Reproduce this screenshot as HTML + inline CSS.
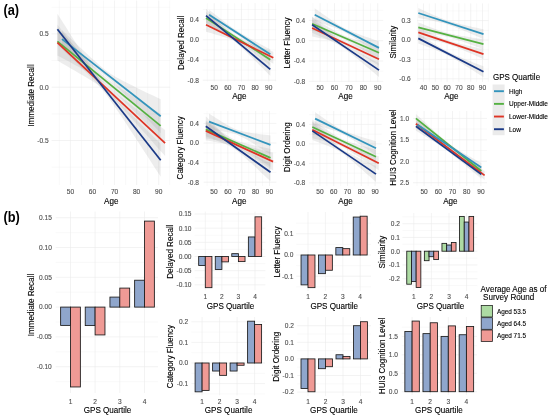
<!DOCTYPE html>
<html><head><meta charset="utf-8"><style>
html,body{margin:0;padding:0;background:#fff;}
svg{display:block;font-family:"Liberation Sans", sans-serif;filter:blur(0.35px);}
</style></head><body>
<svg width="550" height="417" viewBox="0 0 550 417">
<rect width="550" height="417" fill="#fff"/>
<line x1="59.36" y1="0.50" x2="59.36" y2="185.00" stroke="#EBEBEB" stroke-width="0.3"/>
<line x1="81.44" y1="0.50" x2="81.44" y2="185.00" stroke="#EBEBEB" stroke-width="0.3"/>
<line x1="103.51" y1="0.50" x2="103.51" y2="185.00" stroke="#EBEBEB" stroke-width="0.3"/>
<line x1="125.59" y1="0.50" x2="125.59" y2="185.00" stroke="#EBEBEB" stroke-width="0.3"/>
<line x1="147.66" y1="0.50" x2="147.66" y2="185.00" stroke="#EBEBEB" stroke-width="0.3"/>
<line x1="169.74" y1="0.50" x2="169.74" y2="185.00" stroke="#EBEBEB" stroke-width="0.3"/>
<line x1="70.40" y1="0.50" x2="70.40" y2="185.00" stroke="#EBEBEB" stroke-width="0.6"/>
<line x1="92.48" y1="0.50" x2="92.48" y2="185.00" stroke="#EBEBEB" stroke-width="0.6"/>
<line x1="114.55" y1="0.50" x2="114.55" y2="185.00" stroke="#EBEBEB" stroke-width="0.6"/>
<line x1="136.62" y1="0.50" x2="136.62" y2="185.00" stroke="#EBEBEB" stroke-width="0.6"/>
<line x1="158.70" y1="0.50" x2="158.70" y2="185.00" stroke="#EBEBEB" stroke-width="0.6"/>
<line x1="51.60" y1="7.25" x2="170.20" y2="7.25" stroke="#EBEBEB" stroke-width="0.3"/>
<line x1="51.60" y1="60.55" x2="170.20" y2="60.55" stroke="#EBEBEB" stroke-width="0.3"/>
<line x1="51.60" y1="113.85" x2="170.20" y2="113.85" stroke="#EBEBEB" stroke-width="0.3"/>
<line x1="51.60" y1="167.15" x2="170.20" y2="167.15" stroke="#EBEBEB" stroke-width="0.3"/>
<line x1="51.60" y1="33.90" x2="170.20" y2="33.90" stroke="#EBEBEB" stroke-width="0.6"/>
<line x1="51.60" y1="87.20" x2="170.20" y2="87.20" stroke="#EBEBEB" stroke-width="0.6"/>
<line x1="51.60" y1="140.50" x2="170.20" y2="140.50" stroke="#EBEBEB" stroke-width="0.6"/>
<path d="M62.00,30.10 L66.11,34.05 L70.22,38.00 L74.34,41.93 L78.45,45.84 L82.56,49.73 L86.67,53.58 L90.79,57.38 L94.90,61.11 L99.01,64.73 L103.12,68.20 L107.24,71.47 L111.35,74.34 L115.46,76.82 L119.57,79.09 L123.69,81.24 L127.80,83.32 L131.91,85.37 L136.02,87.39 L140.14,89.40 L144.25,91.39 L148.36,93.38 L152.47,95.36 L156.59,97.33 L160.70,99.30 L160.70,133.30 L156.59,128.84 L152.47,124.38 L148.36,119.92 L144.25,115.48 L140.14,111.04 L136.02,106.61 L131.91,102.20 L127.80,97.81 L123.69,93.46 L119.57,89.18 L115.46,85.01 L111.35,81.06 L107.24,77.49 L103.12,74.33 L99.01,71.37 L94.90,68.55 L90.79,65.85 L86.67,63.22 L82.56,60.64 L78.45,58.09 L74.34,55.57 L70.22,53.07 L66.11,50.58 L62.00,48.10Z" fill="#8C8C8C" fill-opacity="0.16"/>
<path d="M57.40,27.40 L61.70,32.13 L66.01,36.86 L70.31,41.57 L74.62,46.26 L78.92,50.93 L83.22,55.56 L87.53,60.13 L91.83,64.61 L96.14,68.92 L100.44,72.97 L104.75,76.62 L109.05,80.00 L113.35,83.18 L117.66,86.22 L121.96,89.15 L126.27,92.02 L130.57,94.83 L134.88,97.60 L139.18,100.35 L143.48,103.08 L147.79,105.80 L152.09,108.51 L156.40,111.21 L160.70,113.90 L160.70,137.90 L156.40,133.55 L152.09,129.21 L147.79,124.87 L143.48,120.55 L139.18,116.24 L134.88,111.95 L130.57,107.68 L126.27,103.45 L121.96,99.27 L117.66,95.16 L113.35,91.16 L109.05,87.30 L104.75,83.63 L100.44,80.25 L96.14,77.25 L91.83,74.53 L87.53,71.96 L83.22,69.49 L78.92,67.08 L74.62,64.71 L70.31,62.36 L66.01,60.03 L61.70,57.71 L57.40,55.40Z" fill="#8C8C8C" fill-opacity="0.16"/>
<path d="M57.40,24.60 L61.89,30.39 L66.38,36.17 L70.86,41.94 L75.35,47.70 L79.84,53.43 L84.32,59.13 L88.81,64.78 L93.30,70.34 L97.79,75.71 L102.28,80.74 L106.76,85.16 L111.25,89.17 L115.74,92.96 L120.22,96.59 L124.71,100.11 L129.20,103.55 L133.69,106.94 L138.17,110.30 L142.66,113.63 L147.15,116.95 L151.64,120.25 L156.12,123.54 L160.61,126.82 L165.10,130.10 L165.10,156.10 L160.61,151.00 L156.12,145.91 L151.64,140.83 L147.15,135.75 L142.66,130.69 L138.17,125.65 L133.69,120.63 L129.20,115.65 L124.71,110.72 L120.22,105.86 L115.74,101.11 L111.25,96.53 L106.76,92.17 L102.28,88.21 L97.79,84.86 L93.30,81.86 L88.81,79.04 L84.32,76.32 L79.84,73.64 L75.35,71.00 L70.86,68.39 L66.38,65.78 L61.89,63.19 L57.40,60.60Z" fill="#8C8C8C" fill-opacity="0.16"/>
<path d="M57.40,13.70 L61.70,20.52 L66.01,27.33 L70.31,34.13 L74.62,40.92 L78.92,47.68 L83.22,54.41 L87.53,61.08 L91.83,67.65 L96.14,74.05 L100.44,80.15 L104.75,85.78 L109.05,90.96 L113.35,95.80 L117.66,100.43 L121.96,104.93 L126.27,109.35 L130.57,113.72 L134.88,118.06 L139.18,122.38 L143.48,126.68 L147.79,130.97 L152.09,135.25 L156.40,139.53 L160.70,143.80 L160.70,176.80 L156.40,170.15 L152.09,163.50 L147.79,156.85 L143.48,150.22 L139.18,143.60 L134.88,136.99 L130.57,130.41 L126.27,123.85 L121.96,117.35 L117.66,110.92 L113.35,104.63 L109.05,98.54 L104.75,92.80 L100.44,87.50 L96.14,82.67 L91.83,78.15 L87.53,73.80 L83.22,69.54 L78.92,65.34 L74.62,61.18 L70.31,57.04 L66.01,52.92 L61.70,48.80 L57.40,44.70Z" fill="#8C8C8C" fill-opacity="0.16"/>
<line x1="62" y1="39.1" x2="160.7" y2="116.3" stroke="#3394BC" stroke-width="1.75" stroke-linecap="butt"/>
<line x1="57.4" y1="41.4" x2="160.7" y2="125.9" stroke="#55B142" stroke-width="1.75" stroke-linecap="butt"/>
<line x1="57.4" y1="42.6" x2="165.1" y2="143.1" stroke="#DE3425" stroke-width="1.75" stroke-linecap="butt"/>
<line x1="57.4" y1="29.2" x2="160.7" y2="160.3" stroke="#1B3A87" stroke-width="1.75" stroke-linecap="butt"/>
<text x="0" y="2.38" font-size="7.39" fill="#4D4D4D" stroke="#4D4D4D" stroke-width="0.12" text-anchor="end" transform="translate(48.60 33.90) scale(0.8929 1)">0.5</text>
<text x="0" y="2.38" font-size="7.39" fill="#4D4D4D" stroke="#4D4D4D" stroke-width="0.12" text-anchor="end" transform="translate(48.60 87.20) scale(0.8929 1)">0.0</text>
<text x="0" y="2.38" font-size="7.39" fill="#4D4D4D" stroke="#4D4D4D" stroke-width="0.12" text-anchor="end" transform="translate(48.60 140.50) scale(0.8929 1)">-0.5</text>
<text x="0" y="2.38" font-size="7.39" fill="#4D4D4D" stroke="#4D4D4D" stroke-width="0.12" text-anchor="middle" transform="translate(70.40 191.70) scale(0.8929 1)">50</text>
<text x="0" y="2.38" font-size="7.39" fill="#4D4D4D" stroke="#4D4D4D" stroke-width="0.12" text-anchor="middle" transform="translate(92.48 191.70) scale(0.8929 1)">60</text>
<text x="0" y="2.38" font-size="7.39" fill="#4D4D4D" stroke="#4D4D4D" stroke-width="0.12" text-anchor="middle" transform="translate(114.55 191.70) scale(0.8929 1)">70</text>
<text x="0" y="2.38" font-size="7.39" fill="#4D4D4D" stroke="#4D4D4D" stroke-width="0.12" text-anchor="middle" transform="translate(136.62 191.70) scale(0.8929 1)">80</text>
<text x="0" y="2.38" font-size="7.39" fill="#4D4D4D" stroke="#4D4D4D" stroke-width="0.12" text-anchor="middle" transform="translate(158.70 191.70) scale(0.8929 1)">90</text>
<text x="0" y="2.92" font-size="9.07" fill="#000" stroke="#000" stroke-width="0.12" text-anchor="middle" transform="translate(111.30 200.80) scale(0.8929 1)">Age</text>
<text x="0" y="2.92" font-size="9.07" fill="#000" stroke="#000" stroke-width="0.12" text-anchor="middle" transform="translate(31.10 95.50) rotate(-90) scale(0.8929 1)">Immediate Recall</text>
<line x1="207.39" y1="3.20" x2="207.39" y2="81.50" stroke="#EBEBEB" stroke-width="0.3"/>
<line x1="221.01" y1="3.20" x2="221.01" y2="81.50" stroke="#EBEBEB" stroke-width="0.3"/>
<line x1="234.64" y1="3.20" x2="234.64" y2="81.50" stroke="#EBEBEB" stroke-width="0.3"/>
<line x1="248.26" y1="3.20" x2="248.26" y2="81.50" stroke="#EBEBEB" stroke-width="0.3"/>
<line x1="261.89" y1="3.20" x2="261.89" y2="81.50" stroke="#EBEBEB" stroke-width="0.3"/>
<line x1="275.51" y1="3.20" x2="275.51" y2="81.50" stroke="#EBEBEB" stroke-width="0.3"/>
<line x1="214.20" y1="3.20" x2="214.20" y2="81.50" stroke="#EBEBEB" stroke-width="0.6"/>
<line x1="227.82" y1="3.20" x2="227.82" y2="81.50" stroke="#EBEBEB" stroke-width="0.6"/>
<line x1="241.45" y1="3.20" x2="241.45" y2="81.50" stroke="#EBEBEB" stroke-width="0.6"/>
<line x1="255.07" y1="3.20" x2="255.07" y2="81.50" stroke="#EBEBEB" stroke-width="0.6"/>
<line x1="268.70" y1="3.20" x2="268.70" y2="81.50" stroke="#EBEBEB" stroke-width="0.6"/>
<line x1="202.80" y1="9.50" x2="276.20" y2="9.50" stroke="#EBEBEB" stroke-width="0.3"/>
<line x1="202.80" y1="29.70" x2="276.20" y2="29.70" stroke="#EBEBEB" stroke-width="0.3"/>
<line x1="202.80" y1="49.90" x2="276.20" y2="49.90" stroke="#EBEBEB" stroke-width="0.3"/>
<line x1="202.80" y1="70.10" x2="276.20" y2="70.10" stroke="#EBEBEB" stroke-width="0.3"/>
<line x1="202.80" y1="19.60" x2="276.20" y2="19.60" stroke="#EBEBEB" stroke-width="0.6"/>
<line x1="202.80" y1="39.80" x2="276.20" y2="39.80" stroke="#EBEBEB" stroke-width="0.6"/>
<line x1="202.80" y1="60.00" x2="276.20" y2="60.00" stroke="#EBEBEB" stroke-width="0.6"/>
<line x1="202.80" y1="80.20" x2="276.20" y2="80.20" stroke="#EBEBEB" stroke-width="0.6"/>
<path d="M209.10,9.70 L211.65,11.74 L214.20,13.76 L216.75,15.78 L219.30,17.79 L221.85,19.78 L224.40,21.75 L226.95,23.68 L229.50,25.57 L232.05,27.41 L234.60,29.17 L237.15,30.85 L239.70,32.46 L242.25,34.01 L244.80,35.51 L247.35,36.97 L249.90,38.41 L252.45,39.81 L255.00,41.20 L257.55,42.57 L260.10,43.93 L262.65,45.28 L265.20,46.63 L267.75,47.97 L270.30,49.30 L270.30,59.30 L267.75,57.33 L265.20,55.37 L262.65,53.42 L260.10,51.47 L257.55,49.53 L255.00,47.60 L252.45,45.69 L249.90,43.79 L247.35,41.93 L244.80,40.09 L242.25,38.29 L239.70,36.54 L237.15,34.85 L234.60,33.23 L232.05,31.69 L229.50,30.23 L226.95,28.82 L224.40,27.45 L221.85,26.12 L219.30,24.81 L216.75,23.52 L214.20,22.24 L211.65,20.96 L209.10,19.70Z" fill="#8C8C8C" fill-opacity="0.16"/>
<path d="M206.00,11.90 L208.68,14.13 L211.36,16.36 L214.04,18.58 L216.72,20.78 L219.40,22.97 L222.07,25.14 L224.75,27.27 L227.43,29.35 L230.11,31.36 L232.79,33.27 L235.47,35.06 L238.15,36.73 L240.83,38.33 L243.51,39.86 L246.19,41.33 L248.87,42.77 L251.55,44.18 L254.23,45.57 L256.90,46.95 L259.58,48.31 L262.26,49.67 L264.94,51.02 L267.62,52.36 L270.30,53.70 L270.30,65.70 L267.62,63.56 L264.94,61.42 L262.26,59.28 L259.58,57.15 L256.90,55.04 L254.23,52.93 L251.55,50.83 L248.87,48.76 L246.19,46.72 L243.51,44.71 L240.83,42.75 L238.15,40.87 L235.47,39.06 L232.79,37.36 L230.11,35.79 L227.43,34.31 L224.75,32.91 L222.07,31.56 L219.40,30.25 L216.72,28.95 L214.04,27.67 L211.36,26.41 L208.68,25.15 L206.00,23.90Z" fill="#8C8C8C" fill-opacity="0.16"/>
<path d="M206.00,17.80 L208.80,19.77 L211.61,21.73 L214.41,23.68 L217.22,25.63 L220.02,27.55 L222.82,29.46 L225.63,31.33 L228.43,33.15 L231.24,34.88 L234.04,36.49 L236.85,37.92 L239.65,39.23 L242.45,40.46 L245.26,41.63 L248.06,42.73 L250.87,43.81 L253.67,44.85 L256.48,45.87 L259.28,46.88 L262.08,47.88 L264.89,48.87 L267.69,49.85 L270.50,50.83 L273.30,51.80 L273.30,63.80 L270.50,62.02 L267.69,60.25 L264.89,58.48 L262.08,56.72 L259.28,54.97 L256.48,53.23 L253.67,51.50 L250.87,49.79 L248.06,48.12 L245.26,46.47 L242.45,44.89 L239.65,43.37 L236.85,41.93 L234.04,40.61 L231.24,39.47 L228.43,38.45 L225.63,37.52 L222.82,36.64 L220.02,35.80 L217.22,34.97 L214.41,34.17 L211.61,33.37 L208.80,32.58 L206.00,31.80Z" fill="#8C8C8C" fill-opacity="0.16"/>
<path d="M206.00,8.70 L208.68,11.53 L211.36,14.35 L214.04,17.17 L216.72,19.98 L219.40,22.77 L222.07,25.53 L224.75,28.27 L227.43,30.95 L230.11,33.55 L232.79,36.01 L235.47,38.31 L238.15,40.47 L240.83,42.54 L243.51,44.53 L246.19,46.46 L248.87,48.35 L251.55,50.21 L254.23,52.05 L256.90,53.88 L259.58,55.70 L262.26,57.51 L264.94,59.31 L267.62,61.11 L270.30,62.90 L270.30,75.90 L267.62,73.22 L264.94,70.54 L262.26,67.87 L259.58,65.20 L256.90,62.54 L254.23,59.90 L251.55,57.26 L248.87,54.65 L246.19,52.07 L243.51,49.52 L240.83,47.04 L238.15,44.63 L235.47,42.31 L232.79,40.14 L230.11,38.13 L227.43,36.25 L224.75,34.46 L222.07,32.72 L219.40,31.01 L216.72,29.32 L214.04,27.65 L211.36,26.00 L208.68,24.34 L206.00,22.70Z" fill="#8C8C8C" fill-opacity="0.16"/>
<line x1="209.1" y1="14.7" x2="270.3" y2="54.3" stroke="#3394BC" stroke-width="1.75" stroke-linecap="butt"/>
<line x1="206" y1="17.9" x2="270.3" y2="59.7" stroke="#55B142" stroke-width="1.75" stroke-linecap="butt"/>
<line x1="206" y1="24.8" x2="273.3" y2="57.8" stroke="#DE3425" stroke-width="1.75" stroke-linecap="butt"/>
<line x1="206" y1="15.7" x2="270.3" y2="69.4" stroke="#1B3A87" stroke-width="1.75" stroke-linecap="butt"/>
<text x="0" y="2.38" font-size="7.39" fill="#4D4D4D" stroke="#4D4D4D" stroke-width="0.12" text-anchor="end" transform="translate(198.90 19.60) scale(0.8929 1)">0.4</text>
<text x="0" y="2.38" font-size="7.39" fill="#4D4D4D" stroke="#4D4D4D" stroke-width="0.12" text-anchor="end" transform="translate(198.90 39.80) scale(0.8929 1)">0.0</text>
<text x="0" y="2.38" font-size="7.39" fill="#4D4D4D" stroke="#4D4D4D" stroke-width="0.12" text-anchor="end" transform="translate(198.90 60.00) scale(0.8929 1)">-0.4</text>
<text x="0" y="2.38" font-size="7.39" fill="#4D4D4D" stroke="#4D4D4D" stroke-width="0.12" text-anchor="end" transform="translate(198.90 80.20) scale(0.8929 1)">-0.8</text>
<text x="0" y="2.38" font-size="7.39" fill="#4D4D4D" stroke="#4D4D4D" stroke-width="0.12" text-anchor="middle" transform="translate(214.20 87.50) scale(0.8929 1)">50</text>
<text x="0" y="2.38" font-size="7.39" fill="#4D4D4D" stroke="#4D4D4D" stroke-width="0.12" text-anchor="middle" transform="translate(227.82 87.50) scale(0.8929 1)">60</text>
<text x="0" y="2.38" font-size="7.39" fill="#4D4D4D" stroke="#4D4D4D" stroke-width="0.12" text-anchor="middle" transform="translate(241.45 87.50) scale(0.8929 1)">70</text>
<text x="0" y="2.38" font-size="7.39" fill="#4D4D4D" stroke="#4D4D4D" stroke-width="0.12" text-anchor="middle" transform="translate(255.07 87.50) scale(0.8929 1)">80</text>
<text x="0" y="2.38" font-size="7.39" fill="#4D4D4D" stroke="#4D4D4D" stroke-width="0.12" text-anchor="middle" transform="translate(268.70 87.50) scale(0.8929 1)">90</text>
<text x="0" y="2.92" font-size="9.07" fill="#000" stroke="#000" stroke-width="0.12" text-anchor="middle" transform="translate(239.40 96.50) scale(0.8929 1)">Age</text>
<text x="0" y="2.92" font-size="9.07" fill="#000" stroke="#000" stroke-width="0.12" text-anchor="middle" transform="translate(180.90 42.80) rotate(-90) scale(0.8929 1)">Delayed Recall</text>
<line x1="312.90" y1="3.20" x2="312.90" y2="82.00" stroke="#EBEBEB" stroke-width="0.3"/>
<line x1="327.30" y1="3.20" x2="327.30" y2="82.00" stroke="#EBEBEB" stroke-width="0.3"/>
<line x1="341.70" y1="3.20" x2="341.70" y2="82.00" stroke="#EBEBEB" stroke-width="0.3"/>
<line x1="356.10" y1="3.20" x2="356.10" y2="82.00" stroke="#EBEBEB" stroke-width="0.3"/>
<line x1="370.50" y1="3.20" x2="370.50" y2="82.00" stroke="#EBEBEB" stroke-width="0.3"/>
<line x1="320.10" y1="3.20" x2="320.10" y2="82.00" stroke="#EBEBEB" stroke-width="0.6"/>
<line x1="334.50" y1="3.20" x2="334.50" y2="82.00" stroke="#EBEBEB" stroke-width="0.6"/>
<line x1="348.90" y1="3.20" x2="348.90" y2="82.00" stroke="#EBEBEB" stroke-width="0.6"/>
<line x1="363.30" y1="3.20" x2="363.30" y2="82.00" stroke="#EBEBEB" stroke-width="0.6"/>
<line x1="377.70" y1="3.20" x2="377.70" y2="82.00" stroke="#EBEBEB" stroke-width="0.6"/>
<line x1="308.80" y1="10.25" x2="383.20" y2="10.25" stroke="#EBEBEB" stroke-width="0.3"/>
<line x1="308.80" y1="30.55" x2="383.20" y2="30.55" stroke="#EBEBEB" stroke-width="0.3"/>
<line x1="308.80" y1="50.85" x2="383.20" y2="50.85" stroke="#EBEBEB" stroke-width="0.3"/>
<line x1="308.80" y1="71.15" x2="383.20" y2="71.15" stroke="#EBEBEB" stroke-width="0.3"/>
<line x1="308.80" y1="20.40" x2="383.20" y2="20.40" stroke="#EBEBEB" stroke-width="0.6"/>
<line x1="308.80" y1="40.70" x2="383.20" y2="40.70" stroke="#EBEBEB" stroke-width="0.6"/>
<line x1="308.80" y1="61.00" x2="383.20" y2="61.00" stroke="#EBEBEB" stroke-width="0.6"/>
<line x1="308.80" y1="81.30" x2="383.20" y2="81.30" stroke="#EBEBEB" stroke-width="0.6"/>
<path d="M314.70,8.20 L317.38,10.13 L320.06,12.04 L322.74,13.96 L325.42,15.86 L328.10,17.74 L330.77,19.60 L333.45,21.43 L336.13,23.20 L338.81,24.90 L341.49,26.48 L344.17,27.91 L346.85,29.22 L349.53,30.43 L352.21,31.57 L354.89,32.64 L357.57,33.68 L360.25,34.69 L362.93,35.68 L365.60,36.65 L368.28,37.61 L370.96,38.57 L373.64,39.52 L376.32,40.46 L379.00,41.40 L379.00,54.40 L376.32,52.57 L373.64,50.75 L370.96,48.93 L368.28,47.12 L365.60,45.31 L362.93,43.52 L360.25,41.74 L357.57,39.99 L354.89,38.26 L352.21,36.57 L349.53,34.93 L346.85,33.38 L344.17,31.92 L341.49,30.59 L338.81,29.40 L336.13,28.33 L333.45,27.34 L330.77,26.40 L328.10,25.49 L325.42,24.61 L322.74,23.74 L320.06,22.89 L317.38,22.04 L314.70,21.20Z" fill="#8C8C8C" fill-opacity="0.16"/>
<path d="M312.10,16.70 L314.89,18.51 L317.68,20.30 L320.46,22.10 L323.25,23.88 L326.04,25.64 L328.83,27.38 L331.61,29.09 L334.40,30.75 L337.19,32.32 L339.98,33.76 L342.76,35.04 L345.55,36.17 L348.34,37.21 L351.12,38.18 L353.91,39.08 L356.70,39.95 L359.49,40.79 L362.27,41.60 L365.06,42.41 L367.85,43.20 L370.64,43.98 L373.43,44.76 L376.21,45.53 L379.00,46.30 L379.00,59.30 L376.21,57.64 L373.43,55.99 L370.64,54.34 L367.85,52.70 L365.06,51.07 L362.27,49.45 L359.49,47.84 L356.70,46.25 L353.91,44.69 L351.12,43.17 L348.34,41.71 L345.55,40.33 L342.76,39.04 L339.98,37.89 L337.19,36.90 L334.40,36.05 L331.61,35.28 L328.83,34.57 L326.04,33.88 L323.25,33.22 L320.46,32.58 L317.68,31.95 L314.89,31.32 L312.10,30.70Z" fill="#8C8C8C" fill-opacity="0.16"/>
<path d="M312.10,19.50 L314.89,21.55 L317.68,23.59 L320.46,25.62 L323.25,27.64 L326.04,29.65 L328.83,31.64 L331.61,33.60 L334.40,35.50 L337.19,37.31 L339.98,38.95 L342.76,40.34 L345.55,41.57 L348.34,42.70 L351.12,43.76 L353.91,44.76 L356.70,45.71 L359.49,46.64 L362.27,47.55 L365.06,48.45 L367.85,49.33 L370.64,50.21 L373.43,51.08 L376.21,51.94 L379.00,52.80 L379.00,65.80 L376.21,64.05 L373.43,62.31 L370.64,60.57 L367.85,58.84 L365.06,57.11 L362.27,55.40 L359.49,53.70 L356.70,52.02 L353.91,50.37 L351.12,48.76 L348.34,47.20 L345.55,45.73 L342.76,44.35 L339.98,43.13 L337.19,42.17 L334.40,41.36 L331.61,40.66 L328.83,40.01 L326.04,39.39 L323.25,38.79 L320.46,38.21 L317.68,37.63 L314.89,37.06 L312.10,36.50Z" fill="#8C8C8C" fill-opacity="0.16"/>
<path d="M312.10,16.80 L314.89,19.38 L317.68,21.95 L320.46,24.52 L323.25,27.08 L326.04,29.62 L328.83,32.14 L331.61,34.63 L334.40,37.07 L337.19,39.41 L339.98,41.59 L342.76,43.56 L345.55,45.36 L348.34,47.05 L351.12,48.65 L353.91,50.19 L356.70,51.69 L359.49,53.16 L362.27,54.61 L365.06,56.04 L367.85,57.46 L370.64,58.88 L373.43,60.29 L376.21,61.70 L379.00,63.10 L379.00,77.10 L376.21,74.73 L373.43,72.36 L370.64,69.99 L367.85,67.64 L365.06,65.28 L362.27,62.94 L359.49,60.62 L356.70,58.31 L353.91,56.04 L351.12,53.80 L348.34,51.63 L345.55,49.54 L342.76,47.57 L339.98,45.76 L337.19,44.17 L334.40,42.73 L331.61,41.39 L328.83,40.11 L326.04,38.85 L323.25,37.62 L320.46,36.40 L317.68,35.20 L314.89,34.00 L312.10,32.80Z" fill="#8C8C8C" fill-opacity="0.16"/>
<line x1="314.7" y1="14.7" x2="379" y2="47.9" stroke="#3394BC" stroke-width="1.75" stroke-linecap="butt"/>
<line x1="312.1" y1="23.7" x2="379" y2="52.8" stroke="#55B142" stroke-width="1.75" stroke-linecap="butt"/>
<line x1="312.1" y1="28" x2="379" y2="59.3" stroke="#DE3425" stroke-width="1.75" stroke-linecap="butt"/>
<line x1="312.1" y1="24.8" x2="379" y2="70.1" stroke="#1B3A87" stroke-width="1.75" stroke-linecap="butt"/>
<text x="0" y="2.38" font-size="7.39" fill="#4D4D4D" stroke="#4D4D4D" stroke-width="0.12" text-anchor="end" transform="translate(305.20 20.40) scale(0.8929 1)">0.4</text>
<text x="0" y="2.38" font-size="7.39" fill="#4D4D4D" stroke="#4D4D4D" stroke-width="0.12" text-anchor="end" transform="translate(305.20 40.70) scale(0.8929 1)">0.0</text>
<text x="0" y="2.38" font-size="7.39" fill="#4D4D4D" stroke="#4D4D4D" stroke-width="0.12" text-anchor="end" transform="translate(305.20 61.00) scale(0.8929 1)">-0.4</text>
<text x="0" y="2.38" font-size="7.39" fill="#4D4D4D" stroke="#4D4D4D" stroke-width="0.12" text-anchor="end" transform="translate(305.20 81.30) scale(0.8929 1)">-0.8</text>
<text x="0" y="2.38" font-size="7.39" fill="#4D4D4D" stroke="#4D4D4D" stroke-width="0.12" text-anchor="middle" transform="translate(320.10 87.50) scale(0.8929 1)">50</text>
<text x="0" y="2.38" font-size="7.39" fill="#4D4D4D" stroke="#4D4D4D" stroke-width="0.12" text-anchor="middle" transform="translate(334.50 87.50) scale(0.8929 1)">60</text>
<text x="0" y="2.38" font-size="7.39" fill="#4D4D4D" stroke="#4D4D4D" stroke-width="0.12" text-anchor="middle" transform="translate(348.90 87.50) scale(0.8929 1)">70</text>
<text x="0" y="2.38" font-size="7.39" fill="#4D4D4D" stroke="#4D4D4D" stroke-width="0.12" text-anchor="middle" transform="translate(363.30 87.50) scale(0.8929 1)">80</text>
<text x="0" y="2.38" font-size="7.39" fill="#4D4D4D" stroke="#4D4D4D" stroke-width="0.12" text-anchor="middle" transform="translate(377.70 87.50) scale(0.8929 1)">90</text>
<text x="0" y="2.92" font-size="9.07" fill="#000" stroke="#000" stroke-width="0.12" text-anchor="middle" transform="translate(345.50 96.50) scale(0.8929 1)">Age</text>
<text x="0" y="2.92" font-size="9.07" fill="#000" stroke="#000" stroke-width="0.12" text-anchor="middle" transform="translate(286.70 43.00) rotate(-90) scale(0.8929 1)">Letter Fluency</text>
<line x1="417.60" y1="3.40" x2="417.60" y2="81.80" stroke="#EBEBEB" stroke-width="0.3"/>
<line x1="429.40" y1="3.40" x2="429.40" y2="81.80" stroke="#EBEBEB" stroke-width="0.3"/>
<line x1="441.20" y1="3.40" x2="441.20" y2="81.80" stroke="#EBEBEB" stroke-width="0.3"/>
<line x1="453.00" y1="3.40" x2="453.00" y2="81.80" stroke="#EBEBEB" stroke-width="0.3"/>
<line x1="464.80" y1="3.40" x2="464.80" y2="81.80" stroke="#EBEBEB" stroke-width="0.3"/>
<line x1="476.60" y1="3.40" x2="476.60" y2="81.80" stroke="#EBEBEB" stroke-width="0.3"/>
<line x1="488.40" y1="3.40" x2="488.40" y2="81.80" stroke="#EBEBEB" stroke-width="0.3"/>
<line x1="423.50" y1="3.40" x2="423.50" y2="81.80" stroke="#EBEBEB" stroke-width="0.6"/>
<line x1="435.30" y1="3.40" x2="435.30" y2="81.80" stroke="#EBEBEB" stroke-width="0.6"/>
<line x1="447.10" y1="3.40" x2="447.10" y2="81.80" stroke="#EBEBEB" stroke-width="0.6"/>
<line x1="458.90" y1="3.40" x2="458.90" y2="81.80" stroke="#EBEBEB" stroke-width="0.6"/>
<line x1="470.70" y1="3.40" x2="470.70" y2="81.80" stroke="#EBEBEB" stroke-width="0.6"/>
<line x1="482.50" y1="3.40" x2="482.50" y2="81.80" stroke="#EBEBEB" stroke-width="0.6"/>
<line x1="417.00" y1="10.90" x2="488.60" y2="10.90" stroke="#EBEBEB" stroke-width="0.3"/>
<line x1="417.00" y1="30.30" x2="488.60" y2="30.30" stroke="#EBEBEB" stroke-width="0.3"/>
<line x1="417.00" y1="49.70" x2="488.60" y2="49.70" stroke="#EBEBEB" stroke-width="0.3"/>
<line x1="417.00" y1="69.10" x2="488.60" y2="69.10" stroke="#EBEBEB" stroke-width="0.3"/>
<line x1="417.00" y1="20.60" x2="488.60" y2="20.60" stroke="#EBEBEB" stroke-width="0.6"/>
<line x1="417.00" y1="40.00" x2="488.60" y2="40.00" stroke="#EBEBEB" stroke-width="0.6"/>
<line x1="417.00" y1="59.40" x2="488.60" y2="59.40" stroke="#EBEBEB" stroke-width="0.6"/>
<line x1="417.00" y1="78.80" x2="488.60" y2="78.80" stroke="#EBEBEB" stroke-width="0.6"/>
<path d="M418.30,8.00 L421.02,9.27 L423.73,10.53 L426.45,11.78 L429.17,13.02 L431.88,14.25 L434.60,15.45 L437.32,16.61 L440.03,17.74 L442.75,18.81 L445.47,19.80 L448.18,20.72 L450.90,21.56 L453.62,22.34 L456.33,23.08 L459.05,23.77 L461.77,24.44 L464.48,25.08 L467.20,25.70 L469.92,26.30 L472.63,26.90 L475.35,27.48 L478.07,28.06 L480.78,28.63 L483.50,29.20 L483.50,39.20 L480.78,38.00 L478.07,36.81 L475.35,35.62 L472.63,34.44 L469.92,33.26 L467.20,32.10 L464.48,30.95 L461.77,29.83 L459.05,28.73 L456.33,27.65 L453.62,26.62 L450.90,25.64 L448.18,24.72 L445.47,23.86 L442.75,23.09 L440.03,22.39 L437.32,21.75 L434.60,21.15 L431.88,20.59 L429.17,20.04 L426.45,19.52 L423.73,19.00 L421.02,18.50 L418.30,18.00Z" fill="#8C8C8C" fill-opacity="0.16"/>
<path d="M418.30,22.40 L421.02,23.49 L423.73,24.56 L426.45,25.63 L429.17,26.69 L431.88,27.73 L434.60,28.75 L437.32,29.73 L440.03,30.67 L442.75,31.56 L445.47,32.37 L448.18,33.10 L450.90,33.76 L453.62,34.36 L456.33,34.91 L459.05,35.42 L461.77,35.91 L464.48,36.36 L467.20,36.80 L469.92,37.22 L472.63,37.63 L475.35,38.03 L478.07,38.43 L480.78,38.82 L483.50,39.20 L483.50,49.20 L480.78,48.18 L478.07,47.17 L475.35,46.17 L472.63,45.17 L469.92,44.18 L467.20,43.20 L464.48,42.24 L461.77,41.29 L459.05,40.38 L456.33,39.49 L453.62,38.64 L450.90,37.84 L448.18,37.10 L445.47,36.43 L442.75,35.84 L440.03,35.33 L437.32,34.87 L434.60,34.45 L431.88,34.07 L429.17,33.71 L426.45,33.37 L423.73,33.04 L421.02,32.71 L418.30,32.40Z" fill="#8C8C8C" fill-opacity="0.16"/>
<path d="M418.30,27.40 L421.02,28.69 L423.73,29.97 L426.45,31.25 L429.17,32.51 L431.88,33.75 L434.60,34.97 L437.32,36.16 L440.03,37.31 L442.75,38.40 L445.47,39.41 L448.18,40.34 L450.90,41.21 L453.62,42.01 L456.33,42.77 L459.05,43.49 L461.77,44.17 L464.48,44.83 L467.20,45.47 L469.92,46.10 L472.63,46.71 L475.35,47.32 L478.07,47.92 L480.78,48.51 L483.50,49.10 L483.50,59.10 L480.78,57.88 L478.07,56.66 L475.35,55.45 L472.63,54.25 L469.92,53.06 L467.20,51.88 L464.48,50.71 L461.77,49.56 L459.05,48.44 L456.33,47.35 L453.62,46.30 L450.90,45.29 L448.18,44.35 L445.47,43.47 L442.75,42.68 L440.03,41.96 L437.32,41.30 L434.60,40.68 L431.88,40.09 L429.17,39.53 L426.45,38.98 L423.73,38.44 L421.02,37.92 L418.30,37.40Z" fill="#8C8C8C" fill-opacity="0.16"/>
<path d="M418.30,33.40 L421.02,35.18 L423.73,36.95 L426.45,38.71 L429.17,40.46 L431.88,42.19 L434.60,43.90 L437.32,45.57 L440.03,47.21 L442.75,48.78 L445.47,50.29 L448.18,51.71 L450.90,53.05 L453.62,54.32 L456.33,55.53 L459.05,56.69 L461.77,57.83 L464.48,58.93 L467.20,60.01 L469.92,61.08 L472.63,62.14 L475.35,63.19 L478.07,64.23 L480.78,65.27 L483.50,66.30 L483.50,77.30 L480.78,75.55 L478.07,73.80 L475.35,72.06 L472.63,70.33 L469.92,68.60 L467.20,66.89 L464.48,65.19 L461.77,63.51 L459.05,61.86 L456.33,60.24 L453.62,58.67 L450.90,57.15 L448.18,55.71 L445.47,54.35 L442.75,53.07 L440.03,51.86 L437.32,50.71 L434.60,49.60 L431.88,48.53 L429.17,47.48 L426.45,46.44 L423.73,45.42 L421.02,44.41 L418.30,43.40Z" fill="#8C8C8C" fill-opacity="0.16"/>
<line x1="418.3" y1="13" x2="483.5" y2="34.2" stroke="#3394BC" stroke-width="1.75" stroke-linecap="butt"/>
<line x1="418.3" y1="27.4" x2="483.5" y2="44.2" stroke="#55B142" stroke-width="1.75" stroke-linecap="butt"/>
<line x1="418.3" y1="32.4" x2="483.5" y2="54.1" stroke="#DE3425" stroke-width="1.75" stroke-linecap="butt"/>
<line x1="418.3" y1="38.4" x2="483.5" y2="71.8" stroke="#1B3A87" stroke-width="1.75" stroke-linecap="butt"/>
<text x="0" y="2.38" font-size="7.39" fill="#4D4D4D" stroke="#4D4D4D" stroke-width="0.12" text-anchor="end" transform="translate(410.70 20.60) scale(0.8929 1)">0.3</text>
<text x="0" y="2.38" font-size="7.39" fill="#4D4D4D" stroke="#4D4D4D" stroke-width="0.12" text-anchor="end" transform="translate(410.70 40.00) scale(0.8929 1)">0.0</text>
<text x="0" y="2.38" font-size="7.39" fill="#4D4D4D" stroke="#4D4D4D" stroke-width="0.12" text-anchor="end" transform="translate(410.70 59.40) scale(0.8929 1)">-0.3</text>
<text x="0" y="2.38" font-size="7.39" fill="#4D4D4D" stroke="#4D4D4D" stroke-width="0.12" text-anchor="end" transform="translate(410.70 78.80) scale(0.8929 1)">-0.6</text>
<text x="0" y="2.38" font-size="7.39" fill="#4D4D4D" stroke="#4D4D4D" stroke-width="0.12" text-anchor="middle" transform="translate(423.50 87.50) scale(0.8929 1)">40</text>
<text x="0" y="2.38" font-size="7.39" fill="#4D4D4D" stroke="#4D4D4D" stroke-width="0.12" text-anchor="middle" transform="translate(435.30 87.50) scale(0.8929 1)">50</text>
<text x="0" y="2.38" font-size="7.39" fill="#4D4D4D" stroke="#4D4D4D" stroke-width="0.12" text-anchor="middle" transform="translate(447.10 87.50) scale(0.8929 1)">60</text>
<text x="0" y="2.38" font-size="7.39" fill="#4D4D4D" stroke="#4D4D4D" stroke-width="0.12" text-anchor="middle" transform="translate(458.90 87.50) scale(0.8929 1)">70</text>
<text x="0" y="2.38" font-size="7.39" fill="#4D4D4D" stroke="#4D4D4D" stroke-width="0.12" text-anchor="middle" transform="translate(470.70 87.50) scale(0.8929 1)">80</text>
<text x="0" y="2.38" font-size="7.39" fill="#4D4D4D" stroke="#4D4D4D" stroke-width="0.12" text-anchor="middle" transform="translate(482.50 87.50) scale(0.8929 1)">90</text>
<text x="0" y="2.92" font-size="9.07" fill="#000" stroke="#000" stroke-width="0.12" text-anchor="middle" transform="translate(451.40 95.70) scale(0.8929 1)">Age</text>
<text x="0" y="2.92" font-size="9.07" fill="#000" stroke="#000" stroke-width="0.12" text-anchor="middle" transform="translate(393.50 42.20) rotate(-90) scale(0.8929 1)">Similarity</text>
<line x1="207.06" y1="111.00" x2="207.06" y2="186.00" stroke="#EBEBEB" stroke-width="0.3"/>
<line x1="220.94" y1="111.00" x2="220.94" y2="186.00" stroke="#EBEBEB" stroke-width="0.3"/>
<line x1="234.81" y1="111.00" x2="234.81" y2="186.00" stroke="#EBEBEB" stroke-width="0.3"/>
<line x1="248.69" y1="111.00" x2="248.69" y2="186.00" stroke="#EBEBEB" stroke-width="0.3"/>
<line x1="262.56" y1="111.00" x2="262.56" y2="186.00" stroke="#EBEBEB" stroke-width="0.3"/>
<line x1="214.00" y1="111.00" x2="214.00" y2="186.00" stroke="#EBEBEB" stroke-width="0.6"/>
<line x1="227.88" y1="111.00" x2="227.88" y2="186.00" stroke="#EBEBEB" stroke-width="0.6"/>
<line x1="241.75" y1="111.00" x2="241.75" y2="186.00" stroke="#EBEBEB" stroke-width="0.6"/>
<line x1="255.62" y1="111.00" x2="255.62" y2="186.00" stroke="#EBEBEB" stroke-width="0.6"/>
<line x1="269.50" y1="111.00" x2="269.50" y2="186.00" stroke="#EBEBEB" stroke-width="0.6"/>
<line x1="203.60" y1="113.60" x2="276.40" y2="113.60" stroke="#EBEBEB" stroke-width="0.3"/>
<line x1="203.60" y1="133.20" x2="276.40" y2="133.20" stroke="#EBEBEB" stroke-width="0.3"/>
<line x1="203.60" y1="152.80" x2="276.40" y2="152.80" stroke="#EBEBEB" stroke-width="0.3"/>
<line x1="203.60" y1="172.40" x2="276.40" y2="172.40" stroke="#EBEBEB" stroke-width="0.3"/>
<line x1="203.60" y1="123.40" x2="276.40" y2="123.40" stroke="#EBEBEB" stroke-width="0.6"/>
<line x1="203.60" y1="143.00" x2="276.40" y2="143.00" stroke="#EBEBEB" stroke-width="0.6"/>
<line x1="203.60" y1="162.60" x2="276.40" y2="162.60" stroke="#EBEBEB" stroke-width="0.6"/>
<line x1="203.60" y1="182.20" x2="276.40" y2="182.20" stroke="#EBEBEB" stroke-width="0.6"/>
<path d="M209.00,113.60 L211.56,115.24 L214.12,116.86 L216.69,118.48 L219.25,120.08 L221.81,121.67 L224.38,123.22 L226.94,124.74 L229.50,126.18 L232.06,127.53 L234.62,128.75 L237.19,129.78 L239.75,130.61 L242.31,131.29 L244.88,131.85 L247.44,132.32 L250.00,132.74 L252.56,133.13 L255.12,133.49 L257.69,133.83 L260.25,134.16 L262.81,134.48 L265.38,134.79 L267.94,135.10 L270.50,135.40 L270.50,154.40 L267.94,152.76 L265.38,151.13 L262.81,149.50 L260.25,147.88 L257.69,146.26 L255.12,144.66 L252.56,143.08 L250.00,141.52 L247.44,140.00 L244.88,138.54 L242.31,137.15 L239.75,135.89 L237.19,134.78 L234.62,133.87 L232.06,133.14 L229.50,132.55 L226.94,132.06 L224.38,131.63 L221.81,131.24 L219.25,130.88 L216.69,130.54 L214.12,130.22 L211.56,129.91 L209.00,129.60Z" fill="#8C8C8C" fill-opacity="0.16"/>
<path d="M205.80,120.40 L208.50,122.35 L211.19,124.30 L213.89,126.24 L216.58,128.16 L219.28,130.06 L221.98,131.94 L224.67,133.77 L227.37,135.54 L230.06,137.20 L232.76,138.69 L235.45,139.96 L238.15,141.03 L240.85,141.95 L243.54,142.76 L246.24,143.50 L248.93,144.18 L251.63,144.82 L254.32,145.44 L257.02,146.04 L259.72,146.63 L262.41,147.20 L265.11,147.77 L267.80,148.34 L270.50,148.90 L270.50,166.90 L267.80,165.09 L265.11,163.28 L262.41,161.47 L259.72,159.67 L257.02,157.89 L254.32,156.11 L251.63,154.36 L248.93,152.62 L246.24,150.93 L243.54,149.29 L240.85,147.72 L238.15,146.27 L235.45,144.97 L232.76,143.86 L230.06,142.97 L227.37,142.26 L224.67,141.65 L221.98,141.11 L219.28,140.61 L216.58,140.14 L213.89,139.69 L211.19,139.25 L208.50,138.82 L205.80,138.40Z" fill="#8C8C8C" fill-opacity="0.16"/>
<path d="M205.80,121.40 L208.60,123.50 L211.41,125.58 L214.21,127.66 L217.02,129.73 L219.82,131.78 L222.62,133.80 L225.43,135.77 L228.23,137.68 L231.04,139.48 L233.84,141.10 L236.65,142.47 L239.45,143.63 L242.25,144.64 L245.06,145.55 L247.86,146.37 L250.67,147.14 L253.47,147.88 L256.28,148.59 L259.08,149.28 L261.88,149.96 L264.69,150.63 L267.49,151.29 L270.30,151.95 L273.10,152.60 L273.10,170.60 L270.30,168.69 L267.49,166.79 L264.69,164.90 L261.88,163.01 L259.08,161.13 L256.28,159.26 L253.47,157.41 L250.67,155.59 L247.86,153.80 L245.06,152.07 L242.25,150.41 L239.45,148.87 L236.65,147.47 L233.84,146.28 L231.04,145.34 L228.23,144.58 L225.43,143.93 L222.62,143.35 L219.82,142.82 L217.02,142.31 L214.21,141.81 L211.41,141.33 L208.60,140.86 L205.80,140.40Z" fill="#8C8C8C" fill-opacity="0.16"/>
<path d="M205.80,116.20 L208.50,118.99 L211.19,121.77 L213.89,124.54 L216.58,127.29 L219.28,130.03 L221.98,132.75 L224.67,135.42 L227.37,138.02 L230.06,140.51 L232.76,142.81 L235.45,144.83 L238.15,146.63 L240.85,148.29 L243.54,149.83 L246.24,151.30 L248.93,152.71 L251.63,154.09 L254.32,155.44 L257.02,156.77 L259.72,158.09 L262.41,159.40 L265.11,160.71 L267.80,162.01 L270.50,163.30 L270.50,181.30 L267.80,178.75 L265.11,176.21 L262.41,173.67 L259.72,171.14 L257.02,168.62 L254.32,166.11 L251.63,163.62 L248.93,161.16 L246.24,158.73 L243.54,156.35 L240.85,154.06 L238.15,151.87 L235.45,149.83 L232.76,148.01 L230.06,146.46 L227.37,145.11 L224.67,143.87 L221.98,142.70 L219.28,141.57 L216.58,140.47 L213.89,139.39 L211.19,138.32 L208.50,137.26 L205.80,136.20Z" fill="#8C8C8C" fill-opacity="0.16"/>
<line x1="209" y1="121.6" x2="270.5" y2="144.9" stroke="#3394BC" stroke-width="1.75" stroke-linecap="butt"/>
<line x1="205.8" y1="129.4" x2="270.5" y2="157.9" stroke="#55B142" stroke-width="1.75" stroke-linecap="butt"/>
<line x1="205.8" y1="130.9" x2="273.1" y2="161.6" stroke="#DE3425" stroke-width="1.75" stroke-linecap="butt"/>
<line x1="205.8" y1="126.2" x2="270.5" y2="172.3" stroke="#1B3A87" stroke-width="1.75" stroke-linecap="butt"/>
<text x="0" y="2.38" font-size="7.39" fill="#4D4D4D" stroke="#4D4D4D" stroke-width="0.12" text-anchor="end" transform="translate(199.00 123.40) scale(0.8929 1)">0.4</text>
<text x="0" y="2.38" font-size="7.39" fill="#4D4D4D" stroke="#4D4D4D" stroke-width="0.12" text-anchor="end" transform="translate(199.00 143.00) scale(0.8929 1)">0.0</text>
<text x="0" y="2.38" font-size="7.39" fill="#4D4D4D" stroke="#4D4D4D" stroke-width="0.12" text-anchor="end" transform="translate(199.00 162.60) scale(0.8929 1)">-0.4</text>
<text x="0" y="2.38" font-size="7.39" fill="#4D4D4D" stroke="#4D4D4D" stroke-width="0.12" text-anchor="end" transform="translate(199.00 182.20) scale(0.8929 1)">-0.8</text>
<text x="0" y="2.38" font-size="7.39" fill="#4D4D4D" stroke="#4D4D4D" stroke-width="0.12" text-anchor="middle" transform="translate(214.00 191.90) scale(0.8929 1)">50</text>
<text x="0" y="2.38" font-size="7.39" fill="#4D4D4D" stroke="#4D4D4D" stroke-width="0.12" text-anchor="middle" transform="translate(227.88 191.90) scale(0.8929 1)">60</text>
<text x="0" y="2.38" font-size="7.39" fill="#4D4D4D" stroke="#4D4D4D" stroke-width="0.12" text-anchor="middle" transform="translate(241.75 191.90) scale(0.8929 1)">70</text>
<text x="0" y="2.38" font-size="7.39" fill="#4D4D4D" stroke="#4D4D4D" stroke-width="0.12" text-anchor="middle" transform="translate(255.62 191.90) scale(0.8929 1)">80</text>
<text x="0" y="2.38" font-size="7.39" fill="#4D4D4D" stroke="#4D4D4D" stroke-width="0.12" text-anchor="middle" transform="translate(269.50 191.90) scale(0.8929 1)">90</text>
<text x="0" y="2.92" font-size="9.07" fill="#000" stroke="#000" stroke-width="0.12" text-anchor="middle" transform="translate(239.20 201.00) scale(0.8929 1)">Age</text>
<text x="0" y="2.92" font-size="9.07" fill="#000" stroke="#000" stroke-width="0.12" text-anchor="middle" transform="translate(180.40 147.80) rotate(-90) scale(0.8929 1)">Category Fluency</text>
<line x1="313.00" y1="111.00" x2="313.00" y2="186.00" stroke="#EBEBEB" stroke-width="0.3"/>
<line x1="326.80" y1="111.00" x2="326.80" y2="186.00" stroke="#EBEBEB" stroke-width="0.3"/>
<line x1="340.60" y1="111.00" x2="340.60" y2="186.00" stroke="#EBEBEB" stroke-width="0.3"/>
<line x1="354.40" y1="111.00" x2="354.40" y2="186.00" stroke="#EBEBEB" stroke-width="0.3"/>
<line x1="368.20" y1="111.00" x2="368.20" y2="186.00" stroke="#EBEBEB" stroke-width="0.3"/>
<line x1="319.90" y1="111.00" x2="319.90" y2="186.00" stroke="#EBEBEB" stroke-width="0.6"/>
<line x1="333.70" y1="111.00" x2="333.70" y2="186.00" stroke="#EBEBEB" stroke-width="0.6"/>
<line x1="347.50" y1="111.00" x2="347.50" y2="186.00" stroke="#EBEBEB" stroke-width="0.6"/>
<line x1="361.30" y1="111.00" x2="361.30" y2="186.00" stroke="#EBEBEB" stroke-width="0.6"/>
<line x1="375.10" y1="111.00" x2="375.10" y2="186.00" stroke="#EBEBEB" stroke-width="0.6"/>
<line x1="309.00" y1="114.65" x2="381.60" y2="114.65" stroke="#EBEBEB" stroke-width="0.3"/>
<line x1="309.00" y1="134.15" x2="381.60" y2="134.15" stroke="#EBEBEB" stroke-width="0.3"/>
<line x1="309.00" y1="153.65" x2="381.60" y2="153.65" stroke="#EBEBEB" stroke-width="0.3"/>
<line x1="309.00" y1="173.15" x2="381.60" y2="173.15" stroke="#EBEBEB" stroke-width="0.3"/>
<line x1="309.00" y1="124.40" x2="381.60" y2="124.40" stroke="#EBEBEB" stroke-width="0.6"/>
<line x1="309.00" y1="143.90" x2="381.60" y2="143.90" stroke="#EBEBEB" stroke-width="0.6"/>
<line x1="309.00" y1="163.40" x2="381.60" y2="163.40" stroke="#EBEBEB" stroke-width="0.6"/>
<line x1="309.00" y1="182.90" x2="381.60" y2="182.90" stroke="#EBEBEB" stroke-width="0.6"/>
<path d="M315.10,112.10 L317.64,113.88 L320.18,115.64 L322.71,117.41 L325.25,119.16 L327.79,120.89 L330.33,122.60 L332.86,124.28 L335.40,125.90 L337.94,127.45 L340.48,128.88 L343.01,130.16 L345.55,131.31 L348.09,132.34 L350.62,133.29 L353.16,134.17 L355.70,135.02 L358.24,135.83 L360.77,136.63 L363.31,137.41 L365.85,138.18 L368.39,138.94 L370.93,139.70 L373.46,140.45 L376.00,141.20 L376.00,155.20 L373.46,153.48 L370.93,151.77 L368.39,150.06 L365.85,148.35 L363.31,146.66 L360.77,144.97 L358.24,143.30 L355.70,141.65 L353.16,140.03 L350.62,138.44 L348.09,136.92 L345.55,135.49 L343.01,134.17 L340.48,132.99 L337.94,131.95 L335.40,131.03 L332.86,130.19 L330.33,129.40 L327.79,128.64 L325.25,127.91 L322.71,127.19 L320.18,126.49 L317.64,125.79 L315.10,125.10Z" fill="#8C8C8C" fill-opacity="0.16"/>
<path d="M312.30,119.50 L314.95,121.38 L317.61,123.26 L320.26,125.13 L322.92,127.00 L325.57,128.84 L328.23,130.67 L330.88,132.46 L333.53,134.19 L336.19,135.84 L338.84,137.35 L341.50,138.66 L344.15,139.81 L346.80,140.85 L349.46,141.81 L352.11,142.70 L354.77,143.55 L357.42,144.38 L360.07,145.18 L362.73,145.97 L365.38,146.75 L368.04,147.52 L370.69,148.28 L373.35,149.04 L376.00,149.80 L376.00,163.80 L373.35,162.07 L370.69,160.35 L368.04,158.63 L365.38,156.92 L362.73,155.21 L360.07,153.52 L357.42,151.84 L354.77,150.18 L352.11,148.55 L349.46,146.96 L346.80,145.43 L344.15,143.99 L341.50,142.66 L338.84,141.49 L336.19,140.51 L333.53,139.67 L330.88,138.93 L328.23,138.23 L325.57,137.58 L322.92,136.94 L320.26,136.32 L317.61,135.70 L314.95,135.10 L312.30,134.50Z" fill="#8C8C8C" fill-opacity="0.16"/>
<path d="M312.30,121.30 L315.07,123.44 L317.84,125.57 L320.61,127.69 L323.38,129.81 L326.15,131.91 L328.93,133.99 L331.70,136.04 L334.47,138.04 L337.24,139.93 L340.01,141.67 L342.78,143.15 L345.55,144.46 L348.32,145.65 L351.09,146.76 L353.86,147.81 L356.63,148.82 L359.40,149.80 L362.18,150.76 L364.95,151.70 L367.72,152.63 L370.49,153.56 L373.26,154.48 L376.03,155.39 L378.80,156.30 L378.80,170.30 L376.03,168.42 L373.26,166.54 L370.49,164.67 L367.72,162.80 L364.95,160.94 L362.18,159.09 L359.40,157.26 L356.63,155.45 L353.86,153.66 L351.09,151.92 L348.32,150.24 L345.55,148.64 L342.78,147.16 L340.01,145.85 L337.24,144.79 L334.47,143.90 L331.70,143.10 L328.93,142.36 L326.15,141.65 L323.38,140.96 L320.61,140.28 L317.84,139.61 L315.07,138.95 L312.30,138.30Z" fill="#8C8C8C" fill-opacity="0.16"/>
<path d="M312.30,121.90 L314.95,124.49 L317.61,127.08 L320.26,129.65 L322.92,132.22 L325.57,134.78 L328.23,137.32 L330.88,139.82 L333.53,142.27 L336.19,144.62 L338.84,146.80 L341.50,148.70 L344.15,150.38 L346.80,151.92 L349.46,153.36 L352.11,154.73 L354.77,156.05 L357.42,157.35 L360.07,158.63 L362.73,159.89 L365.38,161.14 L368.04,162.39 L370.69,163.63 L373.35,164.87 L376.00,166.10 L376.00,182.10 L373.35,179.73 L370.69,177.37 L368.04,175.01 L365.38,172.66 L362.73,170.31 L360.07,167.97 L357.42,165.65 L354.77,163.35 L352.11,161.07 L349.46,158.84 L346.80,156.68 L344.15,154.62 L341.50,152.70 L338.84,151.00 L336.19,149.58 L333.53,148.33 L330.88,147.18 L328.23,146.08 L325.57,145.02 L322.92,143.98 L320.26,142.95 L317.61,141.92 L314.95,140.91 L312.30,139.90Z" fill="#8C8C8C" fill-opacity="0.16"/>
<line x1="315.1" y1="118.6" x2="376" y2="148.2" stroke="#3394BC" stroke-width="1.75" stroke-linecap="butt"/>
<line x1="312.3" y1="127" x2="376" y2="156.8" stroke="#55B142" stroke-width="1.75" stroke-linecap="butt"/>
<line x1="312.3" y1="129.8" x2="378.8" y2="163.3" stroke="#DE3425" stroke-width="1.75" stroke-linecap="butt"/>
<line x1="312.3" y1="130.9" x2="376" y2="174.1" stroke="#1B3A87" stroke-width="1.75" stroke-linecap="butt"/>
<text x="0" y="2.38" font-size="7.39" fill="#4D4D4D" stroke="#4D4D4D" stroke-width="0.12" text-anchor="end" transform="translate(305.20 124.40) scale(0.8929 1)">0.4</text>
<text x="0" y="2.38" font-size="7.39" fill="#4D4D4D" stroke="#4D4D4D" stroke-width="0.12" text-anchor="end" transform="translate(305.20 143.90) scale(0.8929 1)">0.0</text>
<text x="0" y="2.38" font-size="7.39" fill="#4D4D4D" stroke="#4D4D4D" stroke-width="0.12" text-anchor="end" transform="translate(305.20 163.40) scale(0.8929 1)">-0.4</text>
<text x="0" y="2.38" font-size="7.39" fill="#4D4D4D" stroke="#4D4D4D" stroke-width="0.12" text-anchor="end" transform="translate(305.20 182.90) scale(0.8929 1)">-0.8</text>
<text x="0" y="2.38" font-size="7.39" fill="#4D4D4D" stroke="#4D4D4D" stroke-width="0.12" text-anchor="middle" transform="translate(319.90 191.90) scale(0.8929 1)">50</text>
<text x="0" y="2.38" font-size="7.39" fill="#4D4D4D" stroke="#4D4D4D" stroke-width="0.12" text-anchor="middle" transform="translate(333.70 191.90) scale(0.8929 1)">60</text>
<text x="0" y="2.38" font-size="7.39" fill="#4D4D4D" stroke="#4D4D4D" stroke-width="0.12" text-anchor="middle" transform="translate(347.50 191.90) scale(0.8929 1)">70</text>
<text x="0" y="2.38" font-size="7.39" fill="#4D4D4D" stroke="#4D4D4D" stroke-width="0.12" text-anchor="middle" transform="translate(361.30 191.90) scale(0.8929 1)">80</text>
<text x="0" y="2.38" font-size="7.39" fill="#4D4D4D" stroke="#4D4D4D" stroke-width="0.12" text-anchor="middle" transform="translate(375.10 191.90) scale(0.8929 1)">90</text>
<text x="0" y="2.92" font-size="9.07" fill="#000" stroke="#000" stroke-width="0.12" text-anchor="middle" transform="translate(345.50 201.00) scale(0.8929 1)">Age</text>
<text x="0" y="2.92" font-size="9.07" fill="#000" stroke="#000" stroke-width="0.12" text-anchor="middle" transform="translate(286.60 147.30) rotate(-90) scale(0.8929 1)">Digit Ordering</text>
<line x1="417.00" y1="111.00" x2="417.00" y2="186.00" stroke="#EBEBEB" stroke-width="0.3"/>
<line x1="431.20" y1="111.00" x2="431.20" y2="186.00" stroke="#EBEBEB" stroke-width="0.3"/>
<line x1="445.40" y1="111.00" x2="445.40" y2="186.00" stroke="#EBEBEB" stroke-width="0.3"/>
<line x1="459.60" y1="111.00" x2="459.60" y2="186.00" stroke="#EBEBEB" stroke-width="0.3"/>
<line x1="473.80" y1="111.00" x2="473.80" y2="186.00" stroke="#EBEBEB" stroke-width="0.3"/>
<line x1="424.10" y1="111.00" x2="424.10" y2="186.00" stroke="#EBEBEB" stroke-width="0.6"/>
<line x1="438.30" y1="111.00" x2="438.30" y2="186.00" stroke="#EBEBEB" stroke-width="0.6"/>
<line x1="452.50" y1="111.00" x2="452.50" y2="186.00" stroke="#EBEBEB" stroke-width="0.6"/>
<line x1="466.70" y1="111.00" x2="466.70" y2="186.00" stroke="#EBEBEB" stroke-width="0.6"/>
<line x1="480.90" y1="111.00" x2="480.90" y2="186.00" stroke="#EBEBEB" stroke-width="0.6"/>
<line x1="413.00" y1="129.12" x2="487.00" y2="129.12" stroke="#EBEBEB" stroke-width="0.3"/>
<line x1="413.00" y1="150.55" x2="487.00" y2="150.55" stroke="#EBEBEB" stroke-width="0.3"/>
<line x1="413.00" y1="171.98" x2="487.00" y2="171.98" stroke="#EBEBEB" stroke-width="0.3"/>
<line x1="413.00" y1="118.40" x2="487.00" y2="118.40" stroke="#EBEBEB" stroke-width="0.6"/>
<line x1="413.00" y1="139.83" x2="487.00" y2="139.83" stroke="#EBEBEB" stroke-width="0.6"/>
<line x1="413.00" y1="161.27" x2="487.00" y2="161.27" stroke="#EBEBEB" stroke-width="0.6"/>
<line x1="413.00" y1="182.70" x2="487.00" y2="182.70" stroke="#EBEBEB" stroke-width="0.6"/>
<path d="M415.90,113.90 L418.62,116.46 L421.35,119.01 L424.07,121.56 L426.80,124.10 L429.52,126.63 L432.25,129.14 L434.97,131.63 L437.70,134.07 L440.43,136.47 L443.15,138.78 L445.88,141.01 L448.60,143.15 L451.32,145.23 L454.05,147.26 L456.77,149.26 L459.50,151.22 L462.23,153.16 L464.95,155.09 L467.68,157.01 L470.40,158.92 L473.12,160.82 L475.85,162.72 L478.57,164.61 L481.30,166.50 L481.30,175.50 L478.57,173.01 L475.85,170.52 L473.12,168.03 L470.40,165.55 L467.68,163.07 L464.95,160.61 L462.23,158.15 L459.50,155.71 L456.77,153.29 L454.05,150.90 L451.32,148.55 L448.60,146.25 L445.88,144.01 L443.15,141.85 L440.43,139.78 L437.70,137.79 L434.97,135.86 L432.25,133.96 L429.52,132.09 L426.80,130.23 L424.07,128.39 L421.35,126.55 L418.62,124.72 L415.90,122.90Z" fill="#8C8C8C" fill-opacity="0.16"/>
<path d="M415.90,119.30 L418.76,121.82 L421.62,124.33 L424.49,126.84 L427.35,129.34 L430.21,131.82 L433.07,134.29 L435.94,136.73 L438.80,139.14 L441.66,141.49 L444.52,143.77 L447.39,145.95 L450.25,148.05 L453.11,150.09 L455.98,152.08 L458.84,154.03 L461.70,155.95 L464.56,157.86 L467.43,159.74 L470.29,161.62 L473.15,163.48 L476.01,165.34 L478.88,167.20 L481.74,169.05 L484.60,170.90 L484.60,179.90 L481.74,177.45 L478.88,175.00 L476.01,172.56 L473.15,170.12 L470.29,167.68 L467.43,165.26 L464.56,162.84 L461.70,160.45 L458.84,158.07 L455.98,155.72 L453.11,153.41 L450.25,151.15 L447.39,148.95 L444.52,146.83 L441.66,144.81 L438.80,142.86 L435.94,140.97 L433.07,139.11 L430.21,137.28 L427.35,135.46 L424.49,133.66 L421.62,131.87 L418.76,130.08 L415.90,128.30Z" fill="#8C8C8C" fill-opacity="0.16"/>
<path d="M417.50,120.30 L420.16,122.44 L422.82,124.58 L425.48,126.71 L428.13,128.84 L430.79,130.95 L433.45,133.04 L436.11,135.11 L438.77,137.14 L441.43,139.12 L444.08,141.02 L446.74,142.82 L449.40,144.55 L452.06,146.22 L454.72,147.83 L457.38,149.41 L460.03,150.95 L462.69,152.48 L465.35,153.99 L468.01,155.49 L470.67,156.98 L473.32,158.47 L475.98,159.95 L478.64,161.43 L481.30,162.90 L481.30,171.90 L478.64,169.82 L475.98,167.75 L473.32,165.68 L470.67,163.62 L468.01,161.56 L465.35,159.51 L462.69,157.47 L460.03,155.45 L457.38,153.44 L454.72,151.47 L452.06,149.53 L449.40,147.65 L446.74,145.83 L444.08,144.08 L441.43,142.43 L438.77,140.86 L436.11,139.34 L433.45,137.86 L430.79,136.40 L428.13,134.96 L425.48,133.54 L422.82,132.12 L420.16,130.71 L417.50,129.30Z" fill="#8C8C8C" fill-opacity="0.16"/>
<path d="M415.90,121.70 L418.62,124.08 L421.35,126.45 L424.07,128.81 L426.80,131.17 L429.52,133.51 L432.25,135.84 L434.97,138.14 L437.70,140.41 L440.43,142.62 L443.15,144.75 L445.88,146.79 L448.60,148.75 L451.32,150.65 L454.05,152.50 L456.77,154.31 L459.50,156.09 L462.23,157.85 L464.95,159.59 L467.68,161.33 L470.40,163.05 L473.12,164.77 L475.85,166.48 L478.57,168.19 L481.30,169.90 L481.30,178.90 L478.57,176.59 L475.85,174.28 L473.12,171.98 L470.40,169.68 L467.68,167.39 L464.95,165.11 L462.23,162.84 L459.50,160.58 L456.77,158.34 L454.05,156.14 L451.32,153.97 L448.60,151.85 L445.88,149.79 L443.15,147.82 L440.43,145.93 L437.70,144.13 L434.97,142.37 L432.25,140.66 L429.52,138.97 L426.80,137.30 L424.07,135.64 L421.35,133.99 L418.62,132.34 L415.90,130.70Z" fill="#8C8C8C" fill-opacity="0.16"/>
<line x1="415.9" y1="118.4" x2="481.3" y2="171.0" stroke="#55B142" stroke-width="1.75" stroke-linecap="butt"/>
<line x1="415.9" y1="123.8" x2="484.6" y2="175.4" stroke="#DE3425" stroke-width="1.75" stroke-linecap="butt"/>
<line x1="417.5" y1="124.8" x2="481.3" y2="167.4" stroke="#3394BC" stroke-width="1.75" stroke-linecap="butt"/>
<line x1="415.9" y1="126.2" x2="481.3" y2="174.4" stroke="#1B3A87" stroke-width="1.75" stroke-linecap="butt"/>
<text x="0" y="2.38" font-size="7.39" fill="#4D4D4D" stroke="#4D4D4D" stroke-width="0.12" text-anchor="end" transform="translate(409.20 118.40) scale(0.8929 1)">1.0</text>
<text x="0" y="2.38" font-size="7.39" fill="#4D4D4D" stroke="#4D4D4D" stroke-width="0.12" text-anchor="end" transform="translate(409.20 139.83) scale(0.8929 1)">1.5</text>
<text x="0" y="2.38" font-size="7.39" fill="#4D4D4D" stroke="#4D4D4D" stroke-width="0.12" text-anchor="end" transform="translate(409.20 161.27) scale(0.8929 1)">2.0</text>
<text x="0" y="2.38" font-size="7.39" fill="#4D4D4D" stroke="#4D4D4D" stroke-width="0.12" text-anchor="end" transform="translate(409.20 182.70) scale(0.8929 1)">2.5</text>
<text x="0" y="2.38" font-size="7.39" fill="#4D4D4D" stroke="#4D4D4D" stroke-width="0.12" text-anchor="middle" transform="translate(424.10 191.90) scale(0.8929 1)">50</text>
<text x="0" y="2.38" font-size="7.39" fill="#4D4D4D" stroke="#4D4D4D" stroke-width="0.12" text-anchor="middle" transform="translate(438.30 191.90) scale(0.8929 1)">60</text>
<text x="0" y="2.38" font-size="7.39" fill="#4D4D4D" stroke="#4D4D4D" stroke-width="0.12" text-anchor="middle" transform="translate(452.50 191.90) scale(0.8929 1)">70</text>
<text x="0" y="2.38" font-size="7.39" fill="#4D4D4D" stroke="#4D4D4D" stroke-width="0.12" text-anchor="middle" transform="translate(466.70 191.90) scale(0.8929 1)">80</text>
<text x="0" y="2.38" font-size="7.39" fill="#4D4D4D" stroke="#4D4D4D" stroke-width="0.12" text-anchor="middle" transform="translate(480.90 191.90) scale(0.8929 1)">90</text>
<text x="0" y="2.92" font-size="9.07" fill="#000" stroke="#000" stroke-width="0.12" text-anchor="middle" transform="translate(450.40 201.00) scale(0.8929 1)">Age</text>
<text x="0" y="2.92" font-size="9.07" fill="#000" stroke="#000" stroke-width="0.12" text-anchor="middle" transform="translate(393.50 147.60) rotate(-90) scale(0.8929 1)">HUI3 Cognition Level</text>
<line x1="55.70" y1="232.60" x2="158.00" y2="232.60" stroke="#EBEBEB" stroke-width="0.3"/>
<line x1="55.70" y1="262.40" x2="158.00" y2="262.40" stroke="#EBEBEB" stroke-width="0.3"/>
<line x1="55.70" y1="292.20" x2="158.00" y2="292.20" stroke="#EBEBEB" stroke-width="0.3"/>
<line x1="55.70" y1="322.00" x2="158.00" y2="322.00" stroke="#EBEBEB" stroke-width="0.3"/>
<line x1="55.70" y1="351.80" x2="158.00" y2="351.80" stroke="#EBEBEB" stroke-width="0.3"/>
<line x1="55.70" y1="381.60" x2="158.00" y2="381.60" stroke="#EBEBEB" stroke-width="0.3"/>
<line x1="55.70" y1="217.70" x2="158.00" y2="217.70" stroke="#EBEBEB" stroke-width="0.6"/>
<line x1="55.70" y1="247.50" x2="158.00" y2="247.50" stroke="#EBEBEB" stroke-width="0.6"/>
<line x1="55.70" y1="277.30" x2="158.00" y2="277.30" stroke="#EBEBEB" stroke-width="0.6"/>
<line x1="55.70" y1="307.10" x2="158.00" y2="307.10" stroke="#EBEBEB" stroke-width="0.6"/>
<line x1="55.70" y1="336.90" x2="158.00" y2="336.90" stroke="#EBEBEB" stroke-width="0.6"/>
<line x1="55.70" y1="366.70" x2="158.00" y2="366.70" stroke="#EBEBEB" stroke-width="0.6"/>
<line x1="70.50" y1="211.50" x2="70.50" y2="393.00" stroke="#EBEBEB" stroke-width="0.6"/>
<line x1="95.10" y1="211.50" x2="95.10" y2="393.00" stroke="#EBEBEB" stroke-width="0.6"/>
<line x1="119.80" y1="211.50" x2="119.80" y2="393.00" stroke="#EBEBEB" stroke-width="0.6"/>
<line x1="144.50" y1="211.50" x2="144.50" y2="393.00" stroke="#EBEBEB" stroke-width="0.6"/>
<rect x="60.63" y="307.10" width="9.87" height="18.30" fill="#8FA6CC" stroke="#1a1a1a" stroke-width="0.85"/>
<rect x="70.50" y="307.10" width="9.87" height="79.86" fill="#EF9A95" stroke="#1a1a1a" stroke-width="0.85"/>
<rect x="85.23" y="307.10" width="9.87" height="18.48" fill="#8FA6CC" stroke="#1a1a1a" stroke-width="0.85"/>
<rect x="95.10" y="307.10" width="9.87" height="27.83" fill="#EF9A95" stroke="#1a1a1a" stroke-width="0.85"/>
<rect x="109.93" y="297.09" width="9.87" height="10.01" fill="#8FA6CC" stroke="#1a1a1a" stroke-width="0.85"/>
<rect x="119.80" y="288.09" width="9.87" height="19.01" fill="#EF9A95" stroke="#1a1a1a" stroke-width="0.85"/>
<rect x="134.63" y="280.22" width="9.87" height="26.88" fill="#8FA6CC" stroke="#1a1a1a" stroke-width="0.85"/>
<rect x="144.50" y="221.10" width="9.87" height="86.00" fill="#EF9A95" stroke="#1a1a1a" stroke-width="0.85"/>
<text x="0" y="2.38" font-size="7.39" fill="#4D4D4D" stroke="#4D4D4D" stroke-width="0.12" text-anchor="end" transform="translate(51.80 217.70) scale(0.8929 1)">0.15</text>
<text x="0" y="2.38" font-size="7.39" fill="#4D4D4D" stroke="#4D4D4D" stroke-width="0.12" text-anchor="end" transform="translate(51.80 247.50) scale(0.8929 1)">0.10</text>
<text x="0" y="2.38" font-size="7.39" fill="#4D4D4D" stroke="#4D4D4D" stroke-width="0.12" text-anchor="end" transform="translate(51.80 277.30) scale(0.8929 1)">0.05</text>
<text x="0" y="2.38" font-size="7.39" fill="#4D4D4D" stroke="#4D4D4D" stroke-width="0.12" text-anchor="end" transform="translate(51.80 307.10) scale(0.8929 1)">0.00</text>
<text x="0" y="2.38" font-size="7.39" fill="#4D4D4D" stroke="#4D4D4D" stroke-width="0.12" text-anchor="end" transform="translate(51.80 336.90) scale(0.8929 1)">-0.05</text>
<text x="0" y="2.38" font-size="7.39" fill="#4D4D4D" stroke="#4D4D4D" stroke-width="0.12" text-anchor="end" transform="translate(51.80 366.70) scale(0.8929 1)">-0.10</text>
<text x="0" y="2.38" font-size="7.39" fill="#4D4D4D" stroke="#4D4D4D" stroke-width="0.12" text-anchor="middle" transform="translate(70.50 401.60) scale(0.8929 1)">1</text>
<text x="0" y="2.38" font-size="7.39" fill="#4D4D4D" stroke="#4D4D4D" stroke-width="0.12" text-anchor="middle" transform="translate(95.10 401.60) scale(0.8929 1)">2</text>
<text x="0" y="2.38" font-size="7.39" fill="#4D4D4D" stroke="#4D4D4D" stroke-width="0.12" text-anchor="middle" transform="translate(119.80 401.60) scale(0.8929 1)">3</text>
<text x="0" y="2.38" font-size="7.39" fill="#4D4D4D" stroke="#4D4D4D" stroke-width="0.12" text-anchor="middle" transform="translate(144.50 401.60) scale(0.8929 1)">4</text>
<text x="0" y="2.92" font-size="9.07" fill="#000" stroke="#000" stroke-width="0.12" text-anchor="middle" transform="translate(107.50 410.50) scale(0.8929 1)">GPS Quartile</text>
<text x="0" y="2.92" font-size="9.07" fill="#000" stroke="#000" stroke-width="0.12" text-anchor="middle" transform="translate(31.30 305.00) rotate(-90) scale(0.8929 1)">Immediate Recall</text>
<line x1="194.60" y1="221.08" x2="265.40" y2="221.08" stroke="#EBEBEB" stroke-width="0.3"/>
<line x1="194.60" y1="235.25" x2="265.40" y2="235.25" stroke="#EBEBEB" stroke-width="0.3"/>
<line x1="194.60" y1="249.42" x2="265.40" y2="249.42" stroke="#EBEBEB" stroke-width="0.3"/>
<line x1="194.60" y1="263.58" x2="265.40" y2="263.58" stroke="#EBEBEB" stroke-width="0.3"/>
<line x1="194.60" y1="277.75" x2="265.40" y2="277.75" stroke="#EBEBEB" stroke-width="0.3"/>
<line x1="194.60" y1="214.00" x2="265.40" y2="214.00" stroke="#EBEBEB" stroke-width="0.6"/>
<line x1="194.60" y1="228.17" x2="265.40" y2="228.17" stroke="#EBEBEB" stroke-width="0.6"/>
<line x1="194.60" y1="242.33" x2="265.40" y2="242.33" stroke="#EBEBEB" stroke-width="0.6"/>
<line x1="194.60" y1="256.50" x2="265.40" y2="256.50" stroke="#EBEBEB" stroke-width="0.6"/>
<line x1="194.60" y1="270.67" x2="265.40" y2="270.67" stroke="#EBEBEB" stroke-width="0.6"/>
<line x1="194.60" y1="284.83" x2="265.40" y2="284.83" stroke="#EBEBEB" stroke-width="0.6"/>
<line x1="205.30" y1="211.60" x2="205.30" y2="290.20" stroke="#EBEBEB" stroke-width="0.6"/>
<line x1="221.90" y1="211.60" x2="221.90" y2="290.20" stroke="#EBEBEB" stroke-width="0.6"/>
<line x1="238.40" y1="211.60" x2="238.40" y2="290.20" stroke="#EBEBEB" stroke-width="0.6"/>
<line x1="255.00" y1="211.60" x2="255.00" y2="290.20" stroke="#EBEBEB" stroke-width="0.6"/>
<rect x="198.67" y="256.50" width="6.63" height="9.07" fill="#8FA6CC" stroke="#1a1a1a" stroke-width="0.85"/>
<rect x="205.30" y="256.50" width="6.63" height="31.17" fill="#EF9A95" stroke="#1a1a1a" stroke-width="0.85"/>
<rect x="215.27" y="256.50" width="6.63" height="13.03" fill="#8FA6CC" stroke="#1a1a1a" stroke-width="0.85"/>
<rect x="221.90" y="256.50" width="6.63" height="5.38" fill="#EF9A95" stroke="#1a1a1a" stroke-width="0.85"/>
<rect x="231.77" y="253.67" width="6.63" height="2.83" fill="#8FA6CC" stroke="#1a1a1a" stroke-width="0.85"/>
<rect x="238.40" y="256.50" width="6.63" height="5.10" fill="#EF9A95" stroke="#1a1a1a" stroke-width="0.85"/>
<rect x="248.37" y="236.95" width="6.63" height="19.55" fill="#8FA6CC" stroke="#1a1a1a" stroke-width="0.85"/>
<rect x="255.00" y="216.83" width="6.63" height="39.67" fill="#EF9A95" stroke="#1a1a1a" stroke-width="0.85"/>
<text x="0" y="2.38" font-size="7.39" fill="#4D4D4D" stroke="#4D4D4D" stroke-width="0.12" text-anchor="end" transform="translate(191.50 214.00) scale(0.8929 1)">0.15</text>
<text x="0" y="2.38" font-size="7.39" fill="#4D4D4D" stroke="#4D4D4D" stroke-width="0.12" text-anchor="end" transform="translate(191.50 228.17) scale(0.8929 1)">0.10</text>
<text x="0" y="2.38" font-size="7.39" fill="#4D4D4D" stroke="#4D4D4D" stroke-width="0.12" text-anchor="end" transform="translate(191.50 242.33) scale(0.8929 1)">0.05</text>
<text x="0" y="2.38" font-size="7.39" fill="#4D4D4D" stroke="#4D4D4D" stroke-width="0.12" text-anchor="end" transform="translate(191.50 256.50) scale(0.8929 1)">0.00</text>
<text x="0" y="2.38" font-size="7.39" fill="#4D4D4D" stroke="#4D4D4D" stroke-width="0.12" text-anchor="end" transform="translate(191.50 270.67) scale(0.8929 1)">-0.05</text>
<text x="0" y="2.38" font-size="7.39" fill="#4D4D4D" stroke="#4D4D4D" stroke-width="0.12" text-anchor="end" transform="translate(191.50 284.83) scale(0.8929 1)">-0.10</text>
<text x="0" y="2.38" font-size="7.39" fill="#4D4D4D" stroke="#4D4D4D" stroke-width="0.12" text-anchor="middle" transform="translate(205.30 297.00) scale(0.8929 1)">1</text>
<text x="0" y="2.38" font-size="7.39" fill="#4D4D4D" stroke="#4D4D4D" stroke-width="0.12" text-anchor="middle" transform="translate(221.90 297.00) scale(0.8929 1)">2</text>
<text x="0" y="2.38" font-size="7.39" fill="#4D4D4D" stroke="#4D4D4D" stroke-width="0.12" text-anchor="middle" transform="translate(238.40 297.00) scale(0.8929 1)">3</text>
<text x="0" y="2.38" font-size="7.39" fill="#4D4D4D" stroke="#4D4D4D" stroke-width="0.12" text-anchor="middle" transform="translate(255.00 297.00) scale(0.8929 1)">4</text>
<text x="0" y="2.92" font-size="9.07" fill="#000" stroke="#000" stroke-width="0.12" text-anchor="middle" transform="translate(230.50 305.90) scale(0.8929 1)">GPS Quartile</text>
<text x="0" y="2.92" font-size="9.07" fill="#000" stroke="#000" stroke-width="0.12" text-anchor="middle" transform="translate(169.60 251.60) rotate(-90) scale(0.8929 1)">Delayed Recall</text>
<line x1="296.20" y1="223.20" x2="371.00" y2="223.20" stroke="#EBEBEB" stroke-width="0.3"/>
<line x1="296.20" y1="244.40" x2="371.00" y2="244.40" stroke="#EBEBEB" stroke-width="0.3"/>
<line x1="296.20" y1="265.60" x2="371.00" y2="265.60" stroke="#EBEBEB" stroke-width="0.3"/>
<line x1="296.20" y1="286.80" x2="371.00" y2="286.80" stroke="#EBEBEB" stroke-width="0.3"/>
<line x1="296.20" y1="233.80" x2="371.00" y2="233.80" stroke="#EBEBEB" stroke-width="0.6"/>
<line x1="296.20" y1="255.00" x2="371.00" y2="255.00" stroke="#EBEBEB" stroke-width="0.6"/>
<line x1="296.20" y1="276.20" x2="371.00" y2="276.20" stroke="#EBEBEB" stroke-width="0.6"/>
<line x1="308.00" y1="212.00" x2="308.00" y2="291.00" stroke="#EBEBEB" stroke-width="0.6"/>
<line x1="325.40" y1="212.00" x2="325.40" y2="291.00" stroke="#EBEBEB" stroke-width="0.6"/>
<line x1="342.80" y1="212.00" x2="342.80" y2="291.00" stroke="#EBEBEB" stroke-width="0.6"/>
<line x1="360.20" y1="212.00" x2="360.20" y2="291.00" stroke="#EBEBEB" stroke-width="0.6"/>
<rect x="301.04" y="255.00" width="6.96" height="29.89" fill="#8FA6CC" stroke="#1a1a1a" stroke-width="0.85"/>
<rect x="308.00" y="255.00" width="6.96" height="32.65" fill="#EF9A95" stroke="#1a1a1a" stroke-width="0.85"/>
<rect x="318.44" y="255.00" width="6.96" height="18.66" fill="#8FA6CC" stroke="#1a1a1a" stroke-width="0.85"/>
<rect x="325.40" y="255.00" width="6.96" height="15.26" fill="#EF9A95" stroke="#1a1a1a" stroke-width="0.85"/>
<rect x="335.84" y="247.58" width="6.96" height="7.42" fill="#8FA6CC" stroke="#1a1a1a" stroke-width="0.85"/>
<rect x="342.80" y="248.64" width="6.96" height="6.36" fill="#EF9A95" stroke="#1a1a1a" stroke-width="0.85"/>
<rect x="353.24" y="217.05" width="6.96" height="37.95" fill="#8FA6CC" stroke="#1a1a1a" stroke-width="0.85"/>
<rect x="360.20" y="216.20" width="6.96" height="38.80" fill="#EF9A95" stroke="#1a1a1a" stroke-width="0.85"/>
<text x="0" y="2.38" font-size="7.39" fill="#4D4D4D" stroke="#4D4D4D" stroke-width="0.12" text-anchor="end" transform="translate(293.30 233.80) scale(0.8929 1)">0.1</text>
<text x="0" y="2.38" font-size="7.39" fill="#4D4D4D" stroke="#4D4D4D" stroke-width="0.12" text-anchor="end" transform="translate(293.30 255.00) scale(0.8929 1)">0.0</text>
<text x="0" y="2.38" font-size="7.39" fill="#4D4D4D" stroke="#4D4D4D" stroke-width="0.12" text-anchor="end" transform="translate(293.30 276.20) scale(0.8929 1)">-0.1</text>
<text x="0" y="2.38" font-size="7.39" fill="#4D4D4D" stroke="#4D4D4D" stroke-width="0.12" text-anchor="middle" transform="translate(308.00 296.90) scale(0.8929 1)">1</text>
<text x="0" y="2.38" font-size="7.39" fill="#4D4D4D" stroke="#4D4D4D" stroke-width="0.12" text-anchor="middle" transform="translate(325.40 296.90) scale(0.8929 1)">2</text>
<text x="0" y="2.38" font-size="7.39" fill="#4D4D4D" stroke="#4D4D4D" stroke-width="0.12" text-anchor="middle" transform="translate(342.80 296.90) scale(0.8929 1)">3</text>
<text x="0" y="2.38" font-size="7.39" fill="#4D4D4D" stroke="#4D4D4D" stroke-width="0.12" text-anchor="middle" transform="translate(360.20 296.90) scale(0.8929 1)">4</text>
<text x="0" y="2.92" font-size="9.07" fill="#000" stroke="#000" stroke-width="0.12" text-anchor="middle" transform="translate(334.20 305.90) scale(0.8929 1)">GPS Quartile</text>
<text x="0" y="2.92" font-size="9.07" fill="#000" stroke="#000" stroke-width="0.12" text-anchor="middle" transform="translate(277.00 252.00) rotate(-90) scale(0.8929 1)">Letter Fluency</text>
<line x1="402.40" y1="216.82" x2="477.40" y2="216.82" stroke="#EBEBEB" stroke-width="0.3"/>
<line x1="402.40" y1="230.57" x2="477.40" y2="230.57" stroke="#EBEBEB" stroke-width="0.3"/>
<line x1="402.40" y1="244.32" x2="477.40" y2="244.32" stroke="#EBEBEB" stroke-width="0.3"/>
<line x1="402.40" y1="258.07" x2="477.40" y2="258.07" stroke="#EBEBEB" stroke-width="0.3"/>
<line x1="402.40" y1="271.82" x2="477.40" y2="271.82" stroke="#EBEBEB" stroke-width="0.3"/>
<line x1="402.40" y1="285.57" x2="477.40" y2="285.57" stroke="#EBEBEB" stroke-width="0.3"/>
<line x1="402.40" y1="223.70" x2="477.40" y2="223.70" stroke="#EBEBEB" stroke-width="0.6"/>
<line x1="402.40" y1="237.45" x2="477.40" y2="237.45" stroke="#EBEBEB" stroke-width="0.6"/>
<line x1="402.40" y1="251.20" x2="477.40" y2="251.20" stroke="#EBEBEB" stroke-width="0.6"/>
<line x1="402.40" y1="264.95" x2="477.40" y2="264.95" stroke="#EBEBEB" stroke-width="0.6"/>
<line x1="402.40" y1="278.70" x2="477.40" y2="278.70" stroke="#EBEBEB" stroke-width="0.6"/>
<line x1="413.80" y1="213.00" x2="413.80" y2="291.00" stroke="#EBEBEB" stroke-width="0.6"/>
<line x1="431.40" y1="213.00" x2="431.40" y2="291.00" stroke="#EBEBEB" stroke-width="0.6"/>
<line x1="449.00" y1="213.00" x2="449.00" y2="291.00" stroke="#EBEBEB" stroke-width="0.6"/>
<line x1="466.60" y1="213.00" x2="466.60" y2="291.00" stroke="#EBEBEB" stroke-width="0.6"/>
<rect x="406.76" y="251.20" width="4.69" height="33.00" fill="#ADDBA3" stroke="#1a1a1a" stroke-width="0.85"/>
<rect x="411.45" y="251.20" width="4.69" height="30.39" fill="#8FA6CC" stroke="#1a1a1a" stroke-width="0.85"/>
<rect x="416.15" y="251.20" width="4.69" height="36.30" fill="#EF9A95" stroke="#1a1a1a" stroke-width="0.85"/>
<rect x="424.36" y="251.20" width="4.69" height="9.49" fill="#ADDBA3" stroke="#1a1a1a" stroke-width="0.85"/>
<rect x="429.05" y="251.20" width="4.69" height="5.50" fill="#8FA6CC" stroke="#1a1a1a" stroke-width="0.85"/>
<rect x="433.75" y="251.20" width="4.69" height="8.39" fill="#EF9A95" stroke="#1a1a1a" stroke-width="0.85"/>
<rect x="441.96" y="243.36" width="4.69" height="7.84" fill="#ADDBA3" stroke="#1a1a1a" stroke-width="0.85"/>
<rect x="446.65" y="245.01" width="4.69" height="6.19" fill="#8FA6CC" stroke="#1a1a1a" stroke-width="0.85"/>
<rect x="451.35" y="242.54" width="4.69" height="8.66" fill="#EF9A95" stroke="#1a1a1a" stroke-width="0.85"/>
<rect x="459.56" y="216.41" width="4.69" height="34.79" fill="#ADDBA3" stroke="#1a1a1a" stroke-width="0.85"/>
<rect x="464.25" y="222.05" width="4.69" height="29.15" fill="#8FA6CC" stroke="#1a1a1a" stroke-width="0.85"/>
<rect x="468.95" y="216.41" width="4.69" height="34.79" fill="#EF9A95" stroke="#1a1a1a" stroke-width="0.85"/>
<text x="0" y="2.38" font-size="7.39" fill="#4D4D4D" stroke="#4D4D4D" stroke-width="0.12" text-anchor="end" transform="translate(400.00 223.70) scale(0.8929 1)">0.2</text>
<text x="0" y="2.38" font-size="7.39" fill="#4D4D4D" stroke="#4D4D4D" stroke-width="0.12" text-anchor="end" transform="translate(400.00 237.45) scale(0.8929 1)">0.1</text>
<text x="0" y="2.38" font-size="7.39" fill="#4D4D4D" stroke="#4D4D4D" stroke-width="0.12" text-anchor="end" transform="translate(400.00 251.20) scale(0.8929 1)">0.0</text>
<text x="0" y="2.38" font-size="7.39" fill="#4D4D4D" stroke="#4D4D4D" stroke-width="0.12" text-anchor="end" transform="translate(400.00 264.95) scale(0.8929 1)">-0.1</text>
<text x="0" y="2.38" font-size="7.39" fill="#4D4D4D" stroke="#4D4D4D" stroke-width="0.12" text-anchor="end" transform="translate(400.00 278.70) scale(0.8929 1)">-0.2</text>
<text x="0" y="2.38" font-size="7.39" fill="#4D4D4D" stroke="#4D4D4D" stroke-width="0.12" text-anchor="middle" transform="translate(413.80 296.90) scale(0.8929 1)">1</text>
<text x="0" y="2.38" font-size="7.39" fill="#4D4D4D" stroke="#4D4D4D" stroke-width="0.12" text-anchor="middle" transform="translate(431.40 296.90) scale(0.8929 1)">2</text>
<text x="0" y="2.38" font-size="7.39" fill="#4D4D4D" stroke="#4D4D4D" stroke-width="0.12" text-anchor="middle" transform="translate(449.00 296.90) scale(0.8929 1)">3</text>
<text x="0" y="2.38" font-size="7.39" fill="#4D4D4D" stroke="#4D4D4D" stroke-width="0.12" text-anchor="middle" transform="translate(466.60 296.90) scale(0.8929 1)">4</text>
<text x="0" y="2.92" font-size="9.07" fill="#000" stroke="#000" stroke-width="0.12" text-anchor="middle" transform="translate(440.50 305.90) scale(0.8929 1)">GPS Quartile</text>
<text x="0" y="2.92" font-size="9.07" fill="#000" stroke="#000" stroke-width="0.12" text-anchor="middle" transform="translate(382.50 252.00) rotate(-90) scale(0.8929 1)">Similarity</text>
<line x1="191.40" y1="332.10" x2="265.00" y2="332.10" stroke="#EBEBEB" stroke-width="0.3"/>
<line x1="191.40" y1="352.70" x2="265.00" y2="352.70" stroke="#EBEBEB" stroke-width="0.3"/>
<line x1="191.40" y1="373.30" x2="265.00" y2="373.30" stroke="#EBEBEB" stroke-width="0.3"/>
<line x1="191.40" y1="393.90" x2="265.00" y2="393.90" stroke="#EBEBEB" stroke-width="0.3"/>
<line x1="191.40" y1="321.80" x2="265.00" y2="321.80" stroke="#EBEBEB" stroke-width="0.6"/>
<line x1="191.40" y1="342.40" x2="265.00" y2="342.40" stroke="#EBEBEB" stroke-width="0.6"/>
<line x1="191.40" y1="363.00" x2="265.00" y2="363.00" stroke="#EBEBEB" stroke-width="0.6"/>
<line x1="191.40" y1="383.60" x2="265.00" y2="383.60" stroke="#EBEBEB" stroke-width="0.6"/>
<line x1="202.10" y1="317.00" x2="202.10" y2="395.30" stroke="#EBEBEB" stroke-width="0.6"/>
<line x1="219.60" y1="317.00" x2="219.60" y2="395.30" stroke="#EBEBEB" stroke-width="0.6"/>
<line x1="237.10" y1="317.00" x2="237.10" y2="395.30" stroke="#EBEBEB" stroke-width="0.6"/>
<line x1="254.60" y1="317.00" x2="254.60" y2="395.30" stroke="#EBEBEB" stroke-width="0.6"/>
<rect x="195.10" y="363.00" width="7.00" height="28.84" fill="#8FA6CC" stroke="#1a1a1a" stroke-width="0.85"/>
<rect x="202.10" y="363.00" width="7.00" height="27.40" fill="#EF9A95" stroke="#1a1a1a" stroke-width="0.85"/>
<rect x="212.60" y="363.00" width="7.00" height="8.03" fill="#8FA6CC" stroke="#1a1a1a" stroke-width="0.85"/>
<rect x="219.60" y="363.00" width="7.00" height="12.36" fill="#EF9A95" stroke="#1a1a1a" stroke-width="0.85"/>
<rect x="230.10" y="363.00" width="7.00" height="8.03" fill="#8FA6CC" stroke="#1a1a1a" stroke-width="0.85"/>
<rect x="237.10" y="363.00" width="7.00" height="2.27" fill="#EF9A95" stroke="#1a1a1a" stroke-width="0.85"/>
<rect x="247.60" y="321.18" width="7.00" height="41.82" fill="#8FA6CC" stroke="#1a1a1a" stroke-width="0.85"/>
<rect x="254.60" y="324.48" width="7.00" height="38.52" fill="#EF9A95" stroke="#1a1a1a" stroke-width="0.85"/>
<text x="0" y="2.38" font-size="7.39" fill="#4D4D4D" stroke="#4D4D4D" stroke-width="0.12" text-anchor="end" transform="translate(188.10 321.80) scale(0.8929 1)">0.2</text>
<text x="0" y="2.38" font-size="7.39" fill="#4D4D4D" stroke="#4D4D4D" stroke-width="0.12" text-anchor="end" transform="translate(188.10 342.40) scale(0.8929 1)">0.1</text>
<text x="0" y="2.38" font-size="7.39" fill="#4D4D4D" stroke="#4D4D4D" stroke-width="0.12" text-anchor="end" transform="translate(188.10 363.00) scale(0.8929 1)">0.0</text>
<text x="0" y="2.38" font-size="7.39" fill="#4D4D4D" stroke="#4D4D4D" stroke-width="0.12" text-anchor="end" transform="translate(188.10 383.60) scale(0.8929 1)">-0.1</text>
<text x="0" y="2.38" font-size="7.39" fill="#4D4D4D" stroke="#4D4D4D" stroke-width="0.12" text-anchor="middle" transform="translate(202.10 401.80) scale(0.8929 1)">1</text>
<text x="0" y="2.38" font-size="7.39" fill="#4D4D4D" stroke="#4D4D4D" stroke-width="0.12" text-anchor="middle" transform="translate(219.60 401.80) scale(0.8929 1)">2</text>
<text x="0" y="2.38" font-size="7.39" fill="#4D4D4D" stroke="#4D4D4D" stroke-width="0.12" text-anchor="middle" transform="translate(237.10 401.80) scale(0.8929 1)">3</text>
<text x="0" y="2.38" font-size="7.39" fill="#4D4D4D" stroke="#4D4D4D" stroke-width="0.12" text-anchor="middle" transform="translate(254.60 401.80) scale(0.8929 1)">4</text>
<text x="0" y="2.92" font-size="9.07" fill="#000" stroke="#000" stroke-width="0.12" text-anchor="middle" transform="translate(228.60 410.30) scale(0.8929 1)">GPS Quartile</text>
<text x="0" y="2.92" font-size="9.07" fill="#000" stroke="#000" stroke-width="0.12" text-anchor="middle" transform="translate(170.30 356.60) rotate(-90) scale(0.8929 1)">Category Fluency</text>
<line x1="297.20" y1="334.00" x2="371.00" y2="334.00" stroke="#EBEBEB" stroke-width="0.3"/>
<line x1="297.20" y1="350.60" x2="371.00" y2="350.60" stroke="#EBEBEB" stroke-width="0.3"/>
<line x1="297.20" y1="367.20" x2="371.00" y2="367.20" stroke="#EBEBEB" stroke-width="0.3"/>
<line x1="297.20" y1="383.80" x2="371.00" y2="383.80" stroke="#EBEBEB" stroke-width="0.3"/>
<line x1="297.20" y1="325.70" x2="371.00" y2="325.70" stroke="#EBEBEB" stroke-width="0.6"/>
<line x1="297.20" y1="342.30" x2="371.00" y2="342.30" stroke="#EBEBEB" stroke-width="0.6"/>
<line x1="297.20" y1="358.90" x2="371.00" y2="358.90" stroke="#EBEBEB" stroke-width="0.6"/>
<line x1="297.20" y1="375.50" x2="371.00" y2="375.50" stroke="#EBEBEB" stroke-width="0.6"/>
<line x1="297.20" y1="392.10" x2="371.00" y2="392.10" stroke="#EBEBEB" stroke-width="0.6"/>
<line x1="308.00" y1="317.00" x2="308.00" y2="396.00" stroke="#EBEBEB" stroke-width="0.6"/>
<line x1="325.50" y1="317.00" x2="325.50" y2="396.00" stroke="#EBEBEB" stroke-width="0.6"/>
<line x1="343.00" y1="317.00" x2="343.00" y2="396.00" stroke="#EBEBEB" stroke-width="0.6"/>
<line x1="360.50" y1="317.00" x2="360.50" y2="396.00" stroke="#EBEBEB" stroke-width="0.6"/>
<rect x="301.00" y="358.90" width="7.00" height="29.55" fill="#8FA6CC" stroke="#1a1a1a" stroke-width="0.85"/>
<rect x="308.00" y="358.90" width="7.00" height="32.87" fill="#EF9A95" stroke="#1a1a1a" stroke-width="0.85"/>
<rect x="318.50" y="358.90" width="7.00" height="9.79" fill="#8FA6CC" stroke="#1a1a1a" stroke-width="0.85"/>
<rect x="325.50" y="358.90" width="7.00" height="7.80" fill="#EF9A95" stroke="#1a1a1a" stroke-width="0.85"/>
<rect x="336.00" y="354.75" width="7.00" height="4.15" fill="#8FA6CC" stroke="#1a1a1a" stroke-width="0.85"/>
<rect x="343.00" y="356.41" width="7.00" height="2.49" fill="#EF9A95" stroke="#1a1a1a" stroke-width="0.85"/>
<rect x="353.50" y="325.70" width="7.00" height="33.20" fill="#8FA6CC" stroke="#1a1a1a" stroke-width="0.85"/>
<rect x="360.50" y="321.72" width="7.00" height="37.18" fill="#EF9A95" stroke="#1a1a1a" stroke-width="0.85"/>
<text x="0" y="2.38" font-size="7.39" fill="#4D4D4D" stroke="#4D4D4D" stroke-width="0.12" text-anchor="end" transform="translate(293.90 325.70) scale(0.8929 1)">0.2</text>
<text x="0" y="2.38" font-size="7.39" fill="#4D4D4D" stroke="#4D4D4D" stroke-width="0.12" text-anchor="end" transform="translate(293.90 342.30) scale(0.8929 1)">0.1</text>
<text x="0" y="2.38" font-size="7.39" fill="#4D4D4D" stroke="#4D4D4D" stroke-width="0.12" text-anchor="end" transform="translate(293.90 358.90) scale(0.8929 1)">0.0</text>
<text x="0" y="2.38" font-size="7.39" fill="#4D4D4D" stroke="#4D4D4D" stroke-width="0.12" text-anchor="end" transform="translate(293.90 375.50) scale(0.8929 1)">-0.1</text>
<text x="0" y="2.38" font-size="7.39" fill="#4D4D4D" stroke="#4D4D4D" stroke-width="0.12" text-anchor="end" transform="translate(293.90 392.10) scale(0.8929 1)">-0.2</text>
<text x="0" y="2.38" font-size="7.39" fill="#4D4D4D" stroke="#4D4D4D" stroke-width="0.12" text-anchor="middle" transform="translate(308.00 401.80) scale(0.8929 1)">1</text>
<text x="0" y="2.38" font-size="7.39" fill="#4D4D4D" stroke="#4D4D4D" stroke-width="0.12" text-anchor="middle" transform="translate(325.50 401.80) scale(0.8929 1)">2</text>
<text x="0" y="2.38" font-size="7.39" fill="#4D4D4D" stroke="#4D4D4D" stroke-width="0.12" text-anchor="middle" transform="translate(343.00 401.80) scale(0.8929 1)">3</text>
<text x="0" y="2.38" font-size="7.39" fill="#4D4D4D" stroke="#4D4D4D" stroke-width="0.12" text-anchor="middle" transform="translate(360.50 401.80) scale(0.8929 1)">4</text>
<text x="0" y="2.92" font-size="9.07" fill="#000" stroke="#000" stroke-width="0.12" text-anchor="middle" transform="translate(333.90 410.30) scale(0.8929 1)">GPS Quartile</text>
<text x="0" y="2.92" font-size="9.07" fill="#000" stroke="#000" stroke-width="0.12" text-anchor="middle" transform="translate(276.20 356.80) rotate(-90) scale(0.8929 1)">Digit Ordering</text>
<line x1="401.70" y1="327.18" x2="477.00" y2="327.18" stroke="#EBEBEB" stroke-width="0.3"/>
<line x1="401.70" y1="345.62" x2="477.00" y2="345.62" stroke="#EBEBEB" stroke-width="0.3"/>
<line x1="401.70" y1="364.05" x2="477.00" y2="364.05" stroke="#EBEBEB" stroke-width="0.3"/>
<line x1="401.70" y1="382.48" x2="477.00" y2="382.48" stroke="#EBEBEB" stroke-width="0.3"/>
<line x1="401.70" y1="336.40" x2="477.00" y2="336.40" stroke="#EBEBEB" stroke-width="0.6"/>
<line x1="401.70" y1="354.83" x2="477.00" y2="354.83" stroke="#EBEBEB" stroke-width="0.6"/>
<line x1="401.70" y1="373.27" x2="477.00" y2="373.27" stroke="#EBEBEB" stroke-width="0.6"/>
<line x1="401.70" y1="391.70" x2="477.00" y2="391.70" stroke="#EBEBEB" stroke-width="0.6"/>
<line x1="412.10" y1="317.00" x2="412.10" y2="395.00" stroke="#EBEBEB" stroke-width="0.6"/>
<line x1="430.20" y1="317.00" x2="430.20" y2="395.00" stroke="#EBEBEB" stroke-width="0.6"/>
<line x1="448.30" y1="317.00" x2="448.30" y2="395.00" stroke="#EBEBEB" stroke-width="0.6"/>
<line x1="466.40" y1="317.00" x2="466.40" y2="395.00" stroke="#EBEBEB" stroke-width="0.6"/>
<rect x="404.86" y="331.46" width="7.24" height="60.24" fill="#8FA6CC" stroke="#1a1a1a" stroke-width="0.85"/>
<rect x="412.10" y="321.06" width="7.24" height="70.64" fill="#EF9A95" stroke="#1a1a1a" stroke-width="0.85"/>
<rect x="422.96" y="333.63" width="7.24" height="58.06" fill="#8FA6CC" stroke="#1a1a1a" stroke-width="0.85"/>
<rect x="430.20" y="322.76" width="7.24" height="68.94" fill="#EF9A95" stroke="#1a1a1a" stroke-width="0.85"/>
<rect x="441.06" y="336.40" width="7.24" height="55.30" fill="#8FA6CC" stroke="#1a1a1a" stroke-width="0.85"/>
<rect x="448.30" y="325.89" width="7.24" height="65.81" fill="#EF9A95" stroke="#1a1a1a" stroke-width="0.85"/>
<rect x="459.16" y="334.74" width="7.24" height="56.96" fill="#8FA6CC" stroke="#1a1a1a" stroke-width="0.85"/>
<rect x="466.40" y="326.45" width="7.24" height="65.25" fill="#EF9A95" stroke="#1a1a1a" stroke-width="0.85"/>
<text x="0" y="2.38" font-size="7.39" fill="#4D4D4D" stroke="#4D4D4D" stroke-width="0.12" text-anchor="end" transform="translate(398.00 336.40) scale(0.8929 1)">1.5</text>
<text x="0" y="2.38" font-size="7.39" fill="#4D4D4D" stroke="#4D4D4D" stroke-width="0.12" text-anchor="end" transform="translate(398.00 354.83) scale(0.8929 1)">1.0</text>
<text x="0" y="2.38" font-size="7.39" fill="#4D4D4D" stroke="#4D4D4D" stroke-width="0.12" text-anchor="end" transform="translate(398.00 373.27) scale(0.8929 1)">0.5</text>
<text x="0" y="2.38" font-size="7.39" fill="#4D4D4D" stroke="#4D4D4D" stroke-width="0.12" text-anchor="end" transform="translate(398.00 391.70) scale(0.8929 1)">0.0</text>
<text x="0" y="2.38" font-size="7.39" fill="#4D4D4D" stroke="#4D4D4D" stroke-width="0.12" text-anchor="middle" transform="translate(412.10 401.90) scale(0.8929 1)">1</text>
<text x="0" y="2.38" font-size="7.39" fill="#4D4D4D" stroke="#4D4D4D" stroke-width="0.12" text-anchor="middle" transform="translate(430.20 401.90) scale(0.8929 1)">2</text>
<text x="0" y="2.38" font-size="7.39" fill="#4D4D4D" stroke="#4D4D4D" stroke-width="0.12" text-anchor="middle" transform="translate(448.30 401.90) scale(0.8929 1)">3</text>
<text x="0" y="2.38" font-size="7.39" fill="#4D4D4D" stroke="#4D4D4D" stroke-width="0.12" text-anchor="middle" transform="translate(466.40 401.90) scale(0.8929 1)">4</text>
<text x="0" y="2.92" font-size="9.07" fill="#000" stroke="#000" stroke-width="0.12" text-anchor="middle" transform="translate(438.90 410.30) scale(0.8929 1)">GPS Quartile</text>
<text x="0" y="2.92" font-size="9.07" fill="#000" stroke="#000" stroke-width="0.12" text-anchor="middle" transform="translate(381.80 356.00) rotate(-90) scale(0.8929 1)">HUI3 Cognition Level</text>
<text x="0" y="0" font-size="13.9" font-weight="bold" fill="#000" transform="translate(3.5 14.8) scale(0.92 1)">(a)</text>
<text x="0" y="0" font-size="13.9" font-weight="bold" fill="#000" transform="translate(3.5 221.9) scale(0.92 1)">(b)</text>
<text x="0" y="2.88" font-size="8.96" fill="#000" stroke="#000" stroke-width="0.12" text-anchor="start" transform="translate(493.00 76.80) scale(0.8929 1)">GPS Quartile</text>
<rect x="492.6" y="84.5" width="12" height="50.7" fill="#EBEBEB"/>
<line x1="494.0" y1="91.20" x2="503.9" y2="91.20" stroke="#3394BC" stroke-width="1.9"/>
<text x="0" y="2.34" font-size="7.28" fill="#000" stroke="#000" stroke-width="0.12" text-anchor="start" transform="translate(509.00 91.20) scale(0.8929 1)">High</text>
<line x1="494.0" y1="103.87" x2="503.9" y2="103.87" stroke="#55B142" stroke-width="1.9"/>
<text x="0" y="2.34" font-size="7.28" fill="#000" stroke="#000" stroke-width="0.12" text-anchor="start" transform="translate(509.00 103.87) scale(0.8929 1)">Upper-Middle</text>
<line x1="494.0" y1="116.54" x2="503.9" y2="116.54" stroke="#DE3425" stroke-width="1.9"/>
<text x="0" y="2.34" font-size="7.28" fill="#000" stroke="#000" stroke-width="0.12" text-anchor="start" transform="translate(509.00 116.54) scale(0.8929 1)">Lower-Middle</text>
<line x1="494.0" y1="129.21" x2="503.9" y2="129.21" stroke="#1B3A87" stroke-width="1.9"/>
<text x="0" y="2.34" font-size="7.28" fill="#000" stroke="#000" stroke-width="0.12" text-anchor="start" transform="translate(509.00 129.21) scale(0.8929 1)">Low</text>
<text x="0" y="2.92" font-size="9.07" fill="#000" stroke="#000" stroke-width="0.12" text-anchor="start" transform="translate(480.60 289.20) scale(0.8929 1)">Average Age as of</text>
<text x="0" y="2.92" font-size="9.07" fill="#000" stroke="#000" stroke-width="0.12" text-anchor="start" transform="translate(483.00 297.20) scale(0.8929 1)">Survey Round</text>
<rect x="481.2" y="305.40" width="11.2" height="11.6" fill="#ADDBA3" stroke="#1a1a1a" stroke-width="0.75"/>
<text x="0" y="2.30" font-size="7.17" fill="#000" stroke="#000" stroke-width="0.12" text-anchor="start" transform="translate(496.90 311.30) scale(0.8929 1)">Aged 53.5</text>
<rect x="481.2" y="317.70" width="11.2" height="11.6" fill="#8FA6CC" stroke="#1a1a1a" stroke-width="0.75"/>
<text x="0" y="2.30" font-size="7.17" fill="#000" stroke="#000" stroke-width="0.12" text-anchor="start" transform="translate(496.90 323.60) scale(0.8929 1)">Aged 64.5</text>
<rect x="481.2" y="330.00" width="11.2" height="11.6" fill="#EF9A95" stroke="#1a1a1a" stroke-width="0.75"/>
<text x="0" y="2.30" font-size="7.17" fill="#000" stroke="#000" stroke-width="0.12" text-anchor="start" transform="translate(496.90 335.90) scale(0.8929 1)">Aged 71.5</text>
</svg>
</body></html>
